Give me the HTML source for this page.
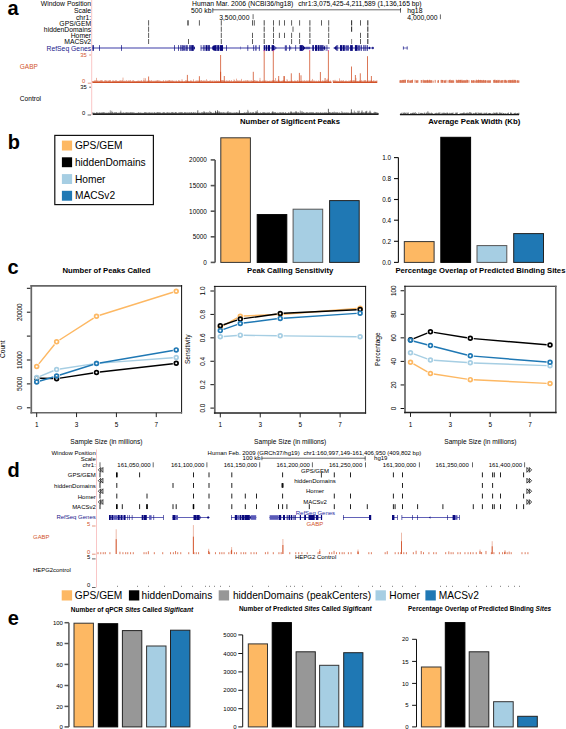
<!DOCTYPE html>
<html><head><meta charset="utf-8"><style>
html,body{margin:0;padding:0;background:#fff;}
body{width:566px;height:729px;overflow:hidden;}
svg{display:block;font-family:"Liberation Sans",sans-serif;}
</style></head><body>
<svg width="566" height="729" viewBox="0 0 566 729">
<rect width="566" height="729" fill="#fff"/>
<text x="7.6" y="15.4" font-size="20" font-weight="bold">a</text>
<text x="7.8" y="149.4" font-size="20" font-weight="bold">b</text>
<text x="7.6" y="274" font-size="20" font-weight="bold">c</text>
<text x="7.6" y="476.6" font-size="20" font-weight="bold">d</text>
<text x="7.8" y="624.6" font-size="20" font-weight="bold">e</text>
<text x="91.1" y="5.8" font-size="6.8" text-anchor="end">Window Position</text>
<text x="91.1" y="12.7" font-size="6.8" text-anchor="end">Scale</text>
<text x="91.1" y="19.6" font-size="6.8" text-anchor="end">chr1:</text>
<text x="91.1" y="26" font-size="6.8" text-anchor="end">GPS/GEM</text>
<text x="91.1" y="31.8" font-size="6.8" text-anchor="end">hiddenDomains</text>
<text x="91.1" y="38.2" font-size="6.8" text-anchor="end">Homer</text>
<text x="91.1" y="44.3" font-size="6.8" text-anchor="end">MACSv2</text>
<text x="91.1" y="50.7" font-size="6.8" text-anchor="end" fill="#1a1a8c">RefSeq Genes</text>
<line x1="91.7" y1="0" x2="91.7" y2="115.2" stroke="#F7B8B8" stroke-width="0.8"/>
<text x="192.1" y="5.9" font-size="6.8">Human Mar. 2006 (NCBI36/hg18)</text>
<text x="298.2" y="5.9" font-size="6.8">chr1:3,075,425-4,211,589 (1,136,165 bp)</text>
<text x="191" y="12.7" font-size="6.8">500 kb</text>
<line x1="212.6" y1="9.8" x2="400.7" y2="9.8" stroke="#000" stroke-width="0.6"/>
<line x1="212.8" y1="8" x2="212.8" y2="12.7" stroke="#000" stroke-width="0.6"/>
<line x1="400.5" y1="8" x2="400.5" y2="12.7" stroke="#000" stroke-width="0.6"/>
<text x="407.3" y="12.8" font-size="6.8">hg18</text>
<text x="219.2" y="20" font-size="6.8">3,500,000</text>
<line x1="253.1" y1="14.2" x2="253.1" y2="19.2" stroke="#000" stroke-width="0.6"/>
<text x="407.3" y="20" font-size="6.8">4,000,000</text>
<line x1="440.4" y1="14.4" x2="440.4" y2="19.2" stroke="#000" stroke-width="0.6"/>
<line x1="148.6" y1="20.2" x2="148.6" y2="25.6" stroke="#333" stroke-width="0.8"/>
<line x1="148.6" y1="26.6" x2="148.6" y2="31.8" stroke="#333" stroke-width="0.8"/>
<line x1="148.6" y1="32.8" x2="148.6" y2="38" stroke="#333" stroke-width="0.8"/>
<line x1="148.6" y1="39" x2="148.6" y2="44" stroke="#333" stroke-width="0.8"/>
<line x1="188" y1="20.2" x2="188" y2="25.6" stroke="#333" stroke-width="1.3"/>
<line x1="188.5" y1="39" x2="188.5" y2="44" stroke="#333" stroke-width="0.8"/>
<line x1="199.4" y1="20.2" x2="199.4" y2="25.6" stroke="#333" stroke-width="0.8"/>
<line x1="221.3" y1="20.2" x2="221.3" y2="25.6" stroke="#333" stroke-width="0.8"/>
<line x1="221.3" y1="26.6" x2="221.3" y2="31.8" stroke="#333" stroke-width="0.8"/>
<line x1="221.3" y1="32.8" x2="221.3" y2="38" stroke="#333" stroke-width="0.8"/>
<line x1="221.3" y1="39" x2="221.3" y2="44" stroke="#333" stroke-width="0.8"/>
<line x1="252.5" y1="20.2" x2="252.5" y2="25.6" stroke="#333" stroke-width="0.8"/>
<line x1="252.5" y1="32.8" x2="252.5" y2="38" stroke="#333" stroke-width="0.8"/>
<line x1="252.5" y1="39" x2="252.5" y2="44" stroke="#333" stroke-width="0.8"/>
<line x1="254.3" y1="20.2" x2="254.3" y2="25.6" stroke="#333" stroke-width="0.8"/>
<line x1="264.2" y1="20.2" x2="264.2" y2="25.6" stroke="#333" stroke-width="0.9"/>
<line x1="264.2" y1="26.6" x2="264.2" y2="31.8" stroke="#333" stroke-width="0.9"/>
<line x1="264.2" y1="32.8" x2="264.2" y2="38" stroke="#333" stroke-width="0.9"/>
<line x1="264.2" y1="39" x2="264.2" y2="44" stroke="#333" stroke-width="0.9"/>
<line x1="273.5" y1="20.2" x2="273.5" y2="25.6" stroke="#333" stroke-width="0.8"/>
<line x1="273.5" y1="26.6" x2="273.5" y2="31.8" stroke="#333" stroke-width="0.8"/>
<line x1="273.5" y1="32.8" x2="273.5" y2="38" stroke="#333" stroke-width="0.8"/>
<line x1="273.5" y1="39" x2="273.5" y2="44" stroke="#333" stroke-width="0.8"/>
<line x1="279.4" y1="20.2" x2="279.4" y2="25.6" stroke="#333" stroke-width="0.8"/>
<line x1="279.4" y1="32.8" x2="279.4" y2="38" stroke="#333" stroke-width="0.8"/>
<line x1="284.5" y1="20.2" x2="284.5" y2="25.6" stroke="#333" stroke-width="0.8"/>
<line x1="284.5" y1="32.8" x2="284.5" y2="38" stroke="#333" stroke-width="0.8"/>
<line x1="291.6" y1="20.2" x2="291.6" y2="25.6" stroke="#333" stroke-width="0.8"/>
<line x1="291.6" y1="32.8" x2="291.6" y2="38" stroke="#333" stroke-width="0.8"/>
<line x1="291.6" y1="39" x2="291.6" y2="44" stroke="#333" stroke-width="0.8"/>
<line x1="293" y1="26.6" x2="293" y2="31.8" stroke="#333" stroke-width="0.8"/>
<line x1="299.6" y1="20.2" x2="299.6" y2="25.6" stroke="#333" stroke-width="0.8"/>
<line x1="299.6" y1="32.8" x2="299.6" y2="38" stroke="#333" stroke-width="0.8"/>
<line x1="299.6" y1="39" x2="299.6" y2="44" stroke="#333" stroke-width="0.8"/>
<line x1="309.9" y1="20.2" x2="309.9" y2="25.6" stroke="#333" stroke-width="0.9"/>
<line x1="309.9" y1="26.6" x2="309.9" y2="31.8" stroke="#333" stroke-width="0.9"/>
<line x1="309.9" y1="32.8" x2="309.9" y2="38" stroke="#333" stroke-width="0.9"/>
<line x1="309.9" y1="39" x2="309.9" y2="44" stroke="#333" stroke-width="0.9"/>
<line x1="321.5" y1="20.2" x2="321.5" y2="25.6" stroke="#333" stroke-width="0.8"/>
<line x1="328.7" y1="20.2" x2="328.7" y2="25.6" stroke="#333" stroke-width="0.8"/>
<line x1="328.7" y1="26.6" x2="328.7" y2="31.8" stroke="#333" stroke-width="0.8"/>
<line x1="328.7" y1="32.8" x2="328.7" y2="38" stroke="#333" stroke-width="0.8"/>
<line x1="328.7" y1="39" x2="328.7" y2="44" stroke="#333" stroke-width="0.8"/>
<line x1="351.6" y1="20.2" x2="351.6" y2="25.6" stroke="#333" stroke-width="1.1"/>
<line x1="351.6" y1="26.6" x2="351.6" y2="31.8" stroke="#333" stroke-width="1.1"/>
<line x1="351.6" y1="39" x2="351.6" y2="44" stroke="#333" stroke-width="0.6"/>
<line x1="360.5" y1="20.2" x2="360.5" y2="25.6" stroke="#333" stroke-width="0.8"/>
<line x1="360.5" y1="32.8" x2="360.5" y2="38" stroke="#333" stroke-width="0.8"/>
<line x1="360.5" y1="39" x2="360.5" y2="44" stroke="#333" stroke-width="0.8"/>
<line x1="367.8" y1="20.2" x2="367.8" y2="25.6" stroke="#333" stroke-width="1.1"/>
<line x1="367.8" y1="26.6" x2="367.8" y2="31.8" stroke="#333" stroke-width="1.1"/>
<line x1="367.8" y1="32.8" x2="367.8" y2="38" stroke="#333" stroke-width="1.1"/>
<line x1="367.8" y1="39" x2="367.8" y2="44" stroke="#333" stroke-width="1.1"/>
<line x1="92.3" y1="48" x2="194.9" y2="48" stroke="#7c7cc4" stroke-width="1.5"/>
<line x1="200.7" y1="48" x2="260" y2="48" stroke="#7c7cc4" stroke-width="1.5"/>
<line x1="263.7" y1="48" x2="329.8" y2="48" stroke="#7c7cc4" stroke-width="1.5"/>
<line x1="333.5" y1="48" x2="373.8" y2="48" stroke="#7c7cc4" stroke-width="1.5"/>
<line x1="403.4" y1="48" x2="407.2" y2="48" stroke="#5050b0" stroke-width="0.8"/>
<line x1="403.4" y1="46.4" x2="403.4" y2="49.6" stroke="#0A0A7E" stroke-width="0.7"/>
<line x1="407.2" y1="46.4" x2="407.2" y2="49.6" stroke="#0A0A7E" stroke-width="0.7"/>
<rect x="99.2" y="45.1" width="0.7" height="5.8" fill="#0A0A7E"/>
<rect x="121.2" y="45.1" width="0.7" height="5.8" fill="#0A0A7E"/>
<rect x="174.3" y="45.1" width="0.7" height="5.8" fill="#0A0A7E"/>
<rect x="178.1" y="45.1" width="0.7" height="5.8" fill="#0A0A7E"/>
<rect x="189.1" y="45.1" width="0.7" height="5.8" fill="#0A0A7E"/>
<rect x="190.1" y="45.1" width="0.7" height="5.8" fill="#0A0A7E"/>
<rect x="200.7" y="45.1" width="0.7" height="5.8" fill="#0A0A7E"/>
<rect x="202.9" y="45.1" width="0.7" height="5.8" fill="#0A0A7E"/>
<rect x="226.3" y="45.1" width="0.7" height="5.8" fill="#0A0A7E"/>
<rect x="247.5" y="45.1" width="0.7" height="5.8" fill="#0A0A7E"/>
<rect x="253.4" y="45.1" width="0.7" height="5.8" fill="#0A0A7E"/>
<rect x="258.9" y="45.1" width="0.7" height="5.8" fill="#0A0A7E"/>
<rect x="289.3" y="45.1" width="0.7" height="5.8" fill="#0A0A7E"/>
<rect x="295.4" y="45.1" width="0.7" height="5.8" fill="#0A0A7E"/>
<rect x="326.6" y="45.1" width="0.7" height="5.8" fill="#0A0A7E"/>
<rect x="337.4" y="45.1" width="0.7" height="5.8" fill="#0A0A7E"/>
<rect x="361.3" y="45.1" width="0.7" height="5.8" fill="#0A0A7E"/>
<rect x="363.4" y="45.1" width="0.7" height="5.8" fill="#0A0A7E"/>
<rect x="364.6" y="45.1" width="0.7" height="5.8" fill="#0A0A7E"/>
<rect x="365.6" y="45.1" width="0.7" height="5.8" fill="#0A0A7E"/>
<rect x="367.1" y="45.1" width="0.7" height="5.8" fill="#0A0A7E"/>
<rect x="92.5" y="45.1" width="1.3" height="5.8" fill="#0A0A7E"/>
<rect x="240.2" y="46.6" width="0.6" height="2.8" fill="#4a4aa8"/>
<rect x="290.5" y="46.4" width="0.6" height="3.2" fill="#0A0A7E"/>
<rect x="180.4" y="45.1" width="0.9" height="5.8" fill="#0A0A7E"/>
<rect x="181.8" y="45.1" width="0.9" height="5.8" fill="#0A0A7E"/>
<rect x="185.8" y="45.1" width="0.9" height="5.8" fill="#0A0A7E"/>
<rect x="187" y="45.1" width="0.6" height="5.8" fill="#0A0A7E"/>
<rect x="191.2" y="45.1" width="2.4" height="5.8" fill="#0A0A7E"/>
<rect x="204.5" y="45.1" width="0.8" height="5.8" fill="#0A0A7E"/>
<rect x="205.8" y="45.1" width="1.8" height="5.8" fill="#0A0A7E"/>
<rect x="208.2" y="45.1" width="1.6" height="5.8" fill="#0A0A7E"/>
<rect x="217.2" y="45.1" width="2.1" height="5.8" fill="#0A0A7E"/>
<rect x="219.9" y="45.1" width="3.1" height="5.8" fill="#0A0A7E"/>
<rect x="263.7" y="45.1" width="1.7" height="5.8" fill="#0A0A7E"/>
<rect x="266" y="45.1" width="1.3" height="5.8" fill="#0A0A7E"/>
<rect x="268" y="45.1" width="2" height="5.8" fill="#0A0A7E"/>
<rect x="271.6" y="45.1" width="2.4" height="5.8" fill="#0A0A7E"/>
<rect x="299.6" y="45.1" width="3.2" height="5.8" fill="#0A0A7E"/>
<rect x="312.3" y="45.1" width="1.6" height="5.8" fill="#0A0A7E"/>
<rect x="315" y="45.1" width="2" height="5.8" fill="#0A0A7E"/>
<rect x="317.6" y="45.1" width="2" height="5.8" fill="#0A0A7E"/>
<rect x="320.2" y="45.1" width="1.6" height="5.8" fill="#0A0A7E"/>
<rect x="322.2" y="45.1" width="1.3" height="5.8" fill="#0A0A7E"/>
<rect x="340" y="45.1" width="2.2" height="5.8" fill="#0A0A7E"/>
<rect x="342.7" y="45.1" width="2.1" height="5.8" fill="#0A0A7E"/>
<rect x="350.1" y="45.1" width="2.7" height="5.8" fill="#0A0A7E"/>
<rect x="354.9" y="45.1" width="2.7" height="5.8" fill="#0A0A7E"/>
<rect x="183" y="45.3" width="2.5" height="5.4" fill="#4a4aa8"/>
<rect x="255.2" y="45.3" width="1.4" height="5.4" fill="#4a4aa8"/>
<rect x="284.8" y="45.3" width="2.1" height="5.4" fill="#4a4aa8"/>
<rect x="345.4" y="45.3" width="3.6" height="5.4" fill="#4a4aa8"/>
<rect x="358" y="45.3" width="2.5" height="5.4" fill="#4a4aa8"/>
<rect x="305.4" y="46.8" width="4.8" height="2.4" fill="#4a4aa8"/>
<path d="M216.6 45.1Q211.6 45.1 212.2 48Q211.6 50.9 216.6 50.9Z" stroke="none" stroke-width="1" fill="#0A0A7E"/>
<path d="M193.5 45.1L195.1 48L193.5 50.9Z" stroke="none" stroke-width="1" fill="#0A0A7E"/>
<path d="M302.7 45.1L305.6 48L302.7 50.9Z" stroke="none" stroke-width="1" fill="#0A0A7E"/>
<path d="M274 45.6L277 48L274 50.4Z" stroke="none" stroke-width="1" fill="#4a4aa8"/>
<path d="M325.2 45.1L323.3 48L325.2 50.9Z" stroke="none" stroke-width="1" fill="#0A0A7E"/>
<path d="M336.8 45.1L334.0 48L336.8 50.9Z" stroke="none" stroke-width="1" fill="#0A0A7E"/>
<path d="M369.4 46.4L370.4 48L369.4 49.6L368.4 48Z" stroke="none" stroke-width="1" fill="#0A0A7E"/>
<path d="M372.9 46.4L373.9 48L372.9 49.6L371.9 48Z" stroke="none" stroke-width="1" fill="#0A0A7E"/>
<line x1="80.5" y1="55.3" x2="80.5" y2="55.3" stroke="#000" stroke-width="1"/>
<text x="86.8" y="56.8" font-size="5.8" text-anchor="end" fill="#D2532B">35</text>
<line x1="89.2" y1="55" x2="91" y2="55" stroke="#D2532B" stroke-width="0.6"/>
<text x="19.8" y="68.6" font-size="6.5" fill="#D2532B">GABP</text>
<text x="85.2" y="82.6" font-size="5.8" text-anchor="end" fill="#D2532B">0</text>
<line x1="87.8" y1="83.2" x2="91" y2="83.2" stroke="#D2532B" stroke-width="0.6"/>
<text x="86.8" y="88.6" font-size="5.8" text-anchor="end">35</text>
<line x1="89.2" y1="87.2" x2="91" y2="87.2" stroke="#000" stroke-width="0.6"/>
<text x="19.8" y="100.7" font-size="6.6">Control</text>
<text x="85.2" y="114.7" font-size="5.8" text-anchor="end">0</text>
<line x1="87.6" y1="115" x2="91" y2="115" stroke="#000" stroke-width="0.6"/>
<line x1="92.5" y1="82.4" x2="331.5" y2="82.4" stroke="#D2532B" stroke-width="1.3"/>
<path d="M92.5 82.4V81.05M93 82.4V81.5M93.5 82.4V81.21M94 82.4V80.89M94.5 82.4V80.64M95 82.4V80.3M95.5 82.4V80.59M96 82.4V80.71M96.5 82.4V77.87M97 82.4V80.28M97.5 82.4V81.01M98 82.4V80.2M98.5 82.4V81.4M99 82.4V80.95M99.5 82.4V80.84M100 82.4V80.72M100.5 82.4V80.58M101 82.4V80.11M101.5 82.4V80.31M102 82.4V80.75M102.5 82.4V80.35M103 82.4V81.5M103.5 82.4V81.47M104 82.4V81.37M104.5 82.4V80.29M105 82.4V81.53M105.5 82.4V80.28M106 82.4V80.1M106.5 82.4V80.7M107 82.4V80.99M107.5 82.4V81.54M108 82.4V80.16M108.5 82.4V80.91M109 82.4V80.71M109.5 82.4V80.19M110 82.4V80.52M110.5 82.4V80.13M111 82.4V81.58M111.5 82.4V81.57M112 82.4V81.51M112.5 82.4V80.58M113 82.4V80.49M113.5 82.4V80.59M114 82.4V80.92M114.5 82.4V81.05M115 82.4V80.71M115.5 82.4V80.44M116 82.4V80.5M116.5 82.4V80.39M117 82.4V80.95M117.5 82.4V81.12M118 82.4V80.94M118.5 82.4V81.09M119 82.4V80.92M119.5 82.4V80.81M120 82.4V80.34M120.5 82.4V80.39M121 82.4V81.08M121.5 82.4V80.41M122 82.4V80.97M122.5 82.4V80.22M123 82.4V77.6M123.5 82.4V80.95M124 82.4V81.27M124.5 82.4V80.61M125 82.4V81.09M125.5 82.4V80.72M126 82.4V81.53M126.5 82.4V80.21M127 82.4V80.73M127.5 82.4V81.34M128 82.4V80.81M128.5 82.4V80.68M129 82.4V80.31M129.5 82.4V81.07M130 82.4V80.37M130.5 82.4V80.22M131 82.4V81.59M131.5 82.4V81.53M132 82.4V80.81M132.5 82.4V80.44M133 82.4V81.41M133.5 82.4V80.14M134 82.4V80.85M134.5 82.4V81.07M135 82.4V81.06M135.5 82.4V81.41M136 82.4V81.03M136.5 82.4V81.04M137 82.4V81.03M137.5 82.4V80.95M138 82.4V80.55M138.5 82.4V80.91M139 82.4V80.56M139.5 82.4V80.96M140 82.4V81.04M140.5 82.4V81.21M141 82.4V80.38M141.5 82.4V80.41M142 82.4V80.75M142.5 82.4V81.59M143 82.4V81.53M143.5 82.4V80.28M144 82.4V77.95M144.5 82.4V80.59M145 82.4V80.73M145.5 82.4V78.21M146 82.4V81.44M146.5 82.4V81.51M147 82.4V80.36M147.5 82.4V81.23M148 82.4V81.01M148.5 82.4V81.07M149 82.4V80.85M149.5 82.4V80.48M150 82.4V80.47M150.5 82.4V80.87M151 82.4V81.38M151.5 82.4V80.23M152 82.4V80.52M152.5 82.4V81.3M153 82.4V81.25M153.5 82.4V81.16M154 82.4V80.32M154.5 82.4V81.27M155 82.4V81.03M155.5 82.4V81.12M156 82.4V80.11M156.5 82.4V80.9M157 82.4V80.76M157.5 82.4V80.32M158 82.4V80.16M158.5 82.4V81.25M159 82.4V80.16M159.5 82.4V81.32M160 82.4V80.54M160.5 82.4V81.22M161 82.4V80.97M161.5 82.4V81.46M162 82.4V81.07M162.5 82.4V81.59M163 82.4V80.87M163.5 82.4V80.17M164 82.4V81.42M164.5 82.4V81.43M165 82.4V81.45M165.5 82.4V80.44M166 82.4V80.59M166.5 82.4V81.2M167 82.4V80.59M167.5 82.4V80.86M168 82.4V80.58M168.5 82.4V80.63M169 82.4V80.27M169.5 82.4V80.2M170 82.4V80.52M170.5 82.4V80.63M171 82.4V81.34M171.5 82.4V80.47M172 82.4V81.06M172.5 82.4V80.29M173 82.4V81.23M173.5 82.4V81.1M174 82.4V80.44M174.5 82.4V81.43M175 82.4V81.43M175.5 82.4V81.32M176 82.4V80.49M176.5 82.4V80.71M177 82.4V81.31M177.5 82.4V81.3M178 82.4V81.55M178.5 82.4V80.18M179 82.4V80.73M179.5 82.4V80.57M180 82.4V80.87M180.5 82.4V81.6M181 82.4V80.86M181.5 82.4V81.31M182 82.4V79.15M182.5 82.4V80.75M183 82.4V81.4M183.5 82.4V81.52M184 82.4V81.48M184.5 82.4V81.12M185 82.4V81.4M185.5 82.4V80.21M186 82.4V81.08M186.5 82.4V80.31M187 82.4V80.87M187.5 82.4V80.63M188 82.4V80.85M188.5 82.4V80.97M189 82.4V80.9M189.5 82.4V81.33M190 82.4V81.05M190.5 82.4V80.71M191 82.4V80.17M191.5 82.4V80.91M192 82.4V81.34M192.5 82.4V81.56M193 82.4V80.86M193.5 82.4V79.33M194 82.4V81.52M194.5 82.4V81.56M195 82.4V81.46M195.5 82.4V80.67M196 82.4V81.52M196.5 82.4V80.42M197 82.4V81.15M197.5 82.4V80.38M198 82.4V81.46M198.5 82.4V80.71M199 82.4V80.58M199.5 82.4V80.71M200 82.4V81.3M200.5 82.4V80.39M201 82.4V81.55M201.5 82.4V80.18M202 82.4V80.33M202.5 82.4V81.1M203 82.4V81.34M203.5 82.4V80.35M204 82.4V81.06M204.5 82.4V80.43M205 82.4V81.35M205.5 82.4V80.53M206 82.4V81.37M206.5 82.4V79.27M207 82.4V81.45M207.5 82.4V80.64M208 82.4V80.93M208.5 82.4V81.1M209 82.4V81M209.5 82.4V80.75M210 82.4V80.63M210.5 82.4V80.37M211 82.4V81.58M211.5 82.4V81.27M212 82.4V80.43M212.5 82.4V80.8M213 82.4V81.48M213.5 82.4V81.56M214 82.4V80.26M214.5 82.4V81.27M215 82.4V80.64M215.5 82.4V81.08M216 82.4V81.43M216.5 82.4V80.38M217 82.4V80.9M217.5 82.4V81.08M218 82.4V80.77M218.5 82.4V80.63M219 82.4V81.07M219.5 82.4V80.95M220 82.4V81.35M220.5 82.4V80.29M221 82.4V80.2M221.5 82.4V80.18M222 82.4V80.87M222.5 82.4V80.1M223 82.4V80.2M223.5 82.4V80.52M224 82.4V80.64M224.5 82.4V81.19M225 82.4V80.49M225.5 82.4V81.44M226 82.4V81.48M226.5 82.4V80.55M227 82.4V80.29M227.5 82.4V81.13M228 82.4V80.79M228.5 82.4V81.17M229 82.4V80.39M229.5 82.4V80.39M230 82.4V80.8M230.5 82.4V81.52M231 82.4V80.9M231.5 82.4V80.13M232 82.4V81.58M232.5 82.4V81.52M233 82.4V81.13M233.5 82.4V80.97M234 82.4V79.4M234.5 82.4V80.23M235 82.4V81.4M235.5 82.4V80.84M236 82.4V81.18M236.5 82.4V78.65M237 82.4V80.9M237.5 82.4V80.38M238 82.4V80.82M238.5 82.4V80.57M239 82.4V80.99M239.5 82.4V80.4M240 82.4V81.37M240.5 82.4V80.98M241 82.4V80.2M241.5 82.4V78.89M242 82.4V81.18M242.5 82.4V81.45M243 82.4V80.83M243.5 82.4V80.63M244 82.4V81.33M244.5 82.4V81.13M245 82.4V80.18M245.5 82.4V81.18M246 82.4V80.13M246.5 82.4V81.3M247 82.4V80.49M247.5 82.4V80.37M248 82.4V80.16M248.5 82.4V80.88M249 82.4V81.53M249.5 82.4V81.38M250 82.4V80.11M250.5 82.4V81.39M251 82.4V81.34M251.5 82.4V80.29M252 82.4V80.8M252.5 82.4V81.02M253 82.4V81.4M253.5 82.4V81.07M254 82.4V81.31M254.5 82.4V80.13M255 82.4V80.17M255.5 82.4V81.13M256 82.4V80.48M256.5 82.4V80.9M257 82.4V80.8M257.5 82.4V80.71M258 82.4V81.33M258.5 82.4V81.35M259 82.4V81.52M259.5 82.4V80.29M260 82.4V77.86M260.5 82.4V80.57M261 82.4V81.46M261.5 82.4V81.38M262 82.4V80.84M262.5 82.4V81.06M263 82.4V80.2M263.5 82.4V81.17M264 82.4V81.42M264.5 82.4V81.09M265 82.4V80.15M265.5 82.4V80.8M266 82.4V80.81M266.5 82.4V81.5M267 82.4V80.43M267.5 82.4V81.02M268 82.4V81.28M268.5 82.4V80.95M269 82.4V81.06M269.5 82.4V81M270 82.4V80.29M270.5 82.4V81.27M271 82.4V81.39M271.5 82.4V81.18M272 82.4V80.22M272.5 82.4V80.36M273 82.4V80.94M273.5 82.4V80.28M274 82.4V80.26M274.5 82.4V80.36M275 82.4V81.56M275.5 82.4V77.99M276 82.4V81.02M276.5 82.4V80.66M277 82.4V81.45M277.5 82.4V81.47M278 82.4V80.11M278.5 82.4V79.22M279 82.4V80.36M279.5 82.4V80.73M280 82.4V81.01M280.5 82.4V81.56M281 82.4V80.74M281.5 82.4V80.9M282 82.4V81.17M282.5 82.4V80.81M283 82.4V80.25M283.5 82.4V80.67M284 82.4V80.24M284.5 82.4V81.29M285 82.4V81.13M285.5 82.4V81.28M286 82.4V81.42M286.5 82.4V81.28M287 82.4V79.15M287.5 82.4V80.35M288 82.4V81.02M288.5 82.4V81.2M289 82.4V81.43M289.5 82.4V80.75M290 82.4V81.28M290.5 82.4V81.34M291 82.4V80.79M291.5 82.4V80.94M292 82.4V80.31M292.5 82.4V81.2M293 82.4V81.27M293.5 82.4V81.08M294 82.4V81.33M294.5 82.4V80.5M295 82.4V80.81M295.5 82.4V80.79M296 82.4V80.86M296.5 82.4V81.3M297 82.4V80.77M297.5 82.4V80.27M298 82.4V80.35M298.5 82.4V81.58M299 82.4V81.07M299.5 82.4V81.23M300 82.4V81.02M300.5 82.4V81.12M301 82.4V81.01M301.5 82.4V80.74M302 82.4V80.88M302.5 82.4V81.35M303 82.4V80.22M303.5 82.4V81M304 82.4V81.13M304.5 82.4V80.18M305 82.4V81.21M305.5 82.4V80.74M306 82.4V81.27M306.5 82.4V80.5M307 82.4V80.54M307.5 82.4V80.91M308 82.4V80.46M308.5 82.4V81.2M309 82.4V80.29M309.5 82.4V80.57M310 82.4V81.21M310.5 82.4V81.02M311 82.4V80.64M311.5 82.4V80.84M312 82.4V80.51M312.5 82.4V78.95M313 82.4V81.3M313.5 82.4V80.49M314 82.4V81.38M314.5 82.4V80.69M315 82.4V80.66M315.5 82.4V81.59M316 82.4V81.01M316.5 82.4V80.68M317 82.4V81.6M317.5 82.4V81.34M318 82.4V81.11M318.5 82.4V80.4M319 82.4V80.93M319.5 82.4V81.26M320 82.4V81.08M320.5 82.4V81.46M321 82.4V80.78M321.5 82.4V81.56M322 82.4V81.31M322.5 82.4V80.46M323 82.4V80.5M323.5 82.4V81.14M324 82.4V80.85M324.5 82.4V80.73M325 82.4V81.41M325.5 82.4V81.05M326 82.4V80.85M326.5 82.4V80.21M327 82.4V79.24M327.5 82.4V80.3M328 82.4V78.54M328.5 82.4V81.15M329 82.4V80.66M329.5 82.4V81.53M330 82.4V81.47M330.5 82.4V80.45M331 82.4V81.48" stroke="#D2532B" stroke-width="0.5" fill="none" stroke-opacity="0.9"/>
<line x1="333" y1="82.4" x2="377.2" y2="82.4" stroke="#D2532B" stroke-width="1.3"/>
<path d="M333 82.4V80.16M333.5 82.4V80.59M334 82.4V80.53M334.5 82.4V80.9M335 82.4V79.83M335.5 82.4V80.89M336 82.4V80.62M336.5 82.4V80.88M337 82.4V81.51M337.5 82.4V80.68M338 82.4V81.45M338.5 82.4V81.22M339 82.4V81.09M339.5 82.4V78.33M340 82.4V80.51M340.5 82.4V81.26M341 82.4V80.64M341.5 82.4V80.45M342 82.4V80.85M342.5 82.4V81.01M343 82.4V80.23M343.5 82.4V80.4M344 82.4V81.39M344.5 82.4V81.42M345 82.4V81.16M345.5 82.4V80.95M346 82.4V80.36M346.5 82.4V80.94M347 82.4V81.57M347.5 82.4V81.02M348 82.4V81.47M348.5 82.4V81.27M349 82.4V80.25M349.5 82.4V81.28M350 82.4V81M350.5 82.4V80.34M351 82.4V80.37M351.5 82.4V81.29M352 82.4V80.24M352.5 82.4V81.43M353 82.4V80.24M353.5 82.4V80.18M354 82.4V81.13M354.5 82.4V80.25M355 82.4V80.62M355.5 82.4V81.41M356 82.4V77.85M356.5 82.4V81.11M357 82.4V80.79M357.5 82.4V81.16M358 82.4V80.94M358.5 82.4V81.42M359 82.4V80.88M359.5 82.4V80.33M360 82.4V81.05M360.5 82.4V80.88M361 82.4V80.89M361.5 82.4V80.13M362 82.4V81.34M362.5 82.4V81.48M363 82.4V80.33M363.5 82.4V81.52M364 82.4V80.47M364.5 82.4V80.41M365 82.4V80.29M365.5 82.4V80.26M366 82.4V80.35M366.5 82.4V81.56M367 82.4V81.54M367.5 82.4V81.28M368 82.4V80.67M368.5 82.4V81.58M369 82.4V80.15M369.5 82.4V81.41M370 82.4V80.82M370.5 82.4V80.51M371 82.4V81.18M371.5 82.4V80.25M372 82.4V80.82M372.5 82.4V81.1M373 82.4V81.16M373.5 82.4V80.51M374 82.4V80.16M374.5 82.4V81.45M375 82.4V81.05M375.5 82.4V80.91M376 82.4V80.67M376.5 82.4V80.86M377 82.4V80.42" stroke="#D2532B" stroke-width="0.5" fill="none" stroke-opacity="0.9"/>
<path d="M399.9 82.8V80.32M400.6 82.8V80.13M401.3 82.8V80.41M402 82.8V80.16M402.7 82.8V79.91M403.4 82.8V80.03M404.1 82.8V79.76M404.8 82.8V79.91M405.5 82.8V79.74M407.6 82.8V80M408.3 82.8V79.8M409.7 82.8V80.44M410.4 82.8V80.54M411.1 82.8V80.2M411.8 82.8V80.14M412.5 82.8V79.73M415.1 82.8V79.89M416.5 82.8V80.39M417.2 82.8V80.36M417.9 82.8V80.13M421.2 82.8V80.03M421.9 82.8V80.05M423.3 82.8V79.78M424 82.8V80.59M424.7 82.8V80.14M425.4 82.8V80.37M426.1 82.8V80.25M426.8 82.8V80.26M427.5 82.8V79.85M428.2 82.8V80.53M428.9 82.8V80.24M429.6 82.8V79.79M430.3 82.8V80.43M431 82.8V80.04M431.7 82.8V80.31M433.1 82.8V80.59M435.2 82.8V79.92M437.8 82.8V80.42M438.5 82.8V80.13M441.1 82.8V79.96M441.8 82.8V79.85M442.5 82.8V80M443.9 82.8V80.13M444.6 82.8V80.56M445.3 82.8V80.36M446 82.8V79.89M448.1 82.8V80.22M449.5 82.8V79.95M450.2 82.8V79.71M450.9 82.8V80.56M451.6 82.8V80.23M452.3 82.8V80.47M453 82.8V79.93M453.7 82.8V80.56M456.3 82.8V79.78M457 82.8V80.1M457.7 82.8V80.48M458.4 82.8V79.81M459.1 82.8V79.99M459.8 82.8V79.9M460.5 82.8V79.87M461.2 82.8V80.34M461.9 82.8V79.74M462.6 82.8V80.49M463.3 82.8V80.41M464 82.8V80.12M464.7 82.8V80.39M465.4 82.8V80.34M466.1 82.8V80.33M466.8 82.8V79.74M467.5 82.8V79.98M468.9 82.8V80.19M471.5 82.8V80.16M472.2 82.8V80.57M472.9 82.8V80.33M473.6 82.8V80.2M474.3 82.8V80.43M475.7 82.8V80.59M476.4 82.8V79.77M477.1 82.8V80.43M477.8 82.8V80.1M478.5 82.8V79.72M479.2 82.8V80.1M479.9 82.8V80.05M480.6 82.8V79.9M481.3 82.8V80.09M482 82.8V80.33M482.7 82.8V80.35M483.4 82.8V79.91M484.1 82.8V80.14M484.8 82.8V80.57M485.5 82.8V80.13M486.2 82.8V80.35M487.6 82.8V80.38M488.3 82.8V80.47M489 82.8V80.31M489.7 82.8V80.53M490.4 82.8V80.25M493.7 82.8V79.98M494.4 82.8V79.83M495.1 82.8V79.77M495.8 82.8V80.55M496.5 82.8V80.12M497.2 82.8V80.56M497.9 82.8V79.89M498.6 82.8V80.28M499.3 82.8V79.93M500.7 82.8V80.46M501.4 82.8V80.31M502.1 82.8V80.24M502.8 82.8V80.04M504.2 82.8V80.26M504.9 82.8V79.86M505.6 82.8V79.95M506.3 82.8V80.56M507 82.8V80.43M508.4 82.8V80.15M509.1 82.8V80.25M509.8 82.8V79.92M510.5 82.8V80.19M511.2 82.8V79.98M511.9 82.8V80.51M512.6 82.8V79.82M513.3 82.8V80.44M514 82.8V79.74M514.7 82.8V80.06M515.4 82.8V79.9M516.1 82.8V80.46M517.5 82.8V80.22M518.2 82.8V80.51M518.9 82.8V80.38" stroke="#D2532B" stroke-width="0.75" fill="none"/>
<line x1="148.6" y1="82.4" x2="148.6" y2="76.5" stroke="#D2532B" stroke-width="0.8"/>
<line x1="187.4" y1="82.4" x2="187.4" y2="74.9" stroke="#D2532B" stroke-width="0.8"/>
<line x1="199.4" y1="82.4" x2="199.4" y2="76.2" stroke="#D2532B" stroke-width="0.8"/>
<line x1="220.6" y1="82.4" x2="220.6" y2="55" stroke="#D2532B" stroke-width="0.8"/>
<line x1="224.3" y1="82.4" x2="224.3" y2="76" stroke="#D2532B" stroke-width="0.8"/>
<line x1="253.3" y1="82.4" x2="253.3" y2="71.8" stroke="#D2532B" stroke-width="0.8"/>
<line x1="264.2" y1="82.4" x2="264.2" y2="50.5" stroke="#D2532B" stroke-width="0.8"/>
<line x1="273.3" y1="82.4" x2="273.3" y2="50.5" stroke="#D2532B" stroke-width="0.8"/>
<line x1="278.7" y1="82.4" x2="278.7" y2="76" stroke="#D2532B" stroke-width="0.8"/>
<line x1="284" y1="82.4" x2="284" y2="76" stroke="#D2532B" stroke-width="0.8"/>
<line x1="284.3" y1="82.4" x2="284.3" y2="76.2" stroke="#D2532B" stroke-width="0.8"/>
<line x1="291.3" y1="82.4" x2="291.3" y2="73.3" stroke="#D2532B" stroke-width="0.8"/>
<line x1="299.4" y1="82.4" x2="299.4" y2="72.9" stroke="#D2532B" stroke-width="0.8"/>
<line x1="301" y1="82.4" x2="301" y2="75.3" stroke="#D2532B" stroke-width="0.8"/>
<line x1="309.7" y1="82.4" x2="309.7" y2="50.5" stroke="#D2532B" stroke-width="0.8"/>
<line x1="320.4" y1="82.4" x2="320.4" y2="72" stroke="#D2532B" stroke-width="0.8"/>
<line x1="325.1" y1="82.4" x2="325.1" y2="78" stroke="#D2532B" stroke-width="0.8"/>
<line x1="328.4" y1="82.4" x2="328.4" y2="50.5" stroke="#D2532B" stroke-width="0.8"/>
<line x1="351.5" y1="82.4" x2="351.5" y2="66.5" stroke="#D2532B" stroke-width="0.8"/>
<line x1="355.4" y1="82.4" x2="355.4" y2="75" stroke="#D2532B" stroke-width="0.8"/>
<line x1="360.3" y1="82.4" x2="360.3" y2="73.3" stroke="#D2532B" stroke-width="0.8"/>
<line x1="367.5" y1="82.4" x2="367.5" y2="56.2" stroke="#D2532B" stroke-width="0.8"/>
<line x1="371.4" y1="82.4" x2="371.4" y2="76" stroke="#D2532B" stroke-width="0.8"/>
<line x1="220.6" y1="82.4" x2="220.6" y2="71.8" stroke="#D2532B" stroke-width="1"/>
<line x1="264.2" y1="50" x2="264.2" y2="51.2" stroke="#E040C0" stroke-width="0.8"/>
<line x1="273.3" y1="50" x2="273.3" y2="51.2" stroke="#E040C0" stroke-width="0.8"/>
<line x1="309.7" y1="50" x2="309.7" y2="51.2" stroke="#E040C0" stroke-width="0.8"/>
<line x1="328.4" y1="50" x2="328.4" y2="51.2" stroke="#E040C0" stroke-width="0.8"/>
<line x1="92.8" y1="114.3" x2="378.5" y2="114.3" stroke="#222" stroke-width="1.6"/>
<path d="M92.8 114.3V112.28M93.3 114.3V112.79M93.8 114.3V113.1M94.3 114.3V112.56M94.8 114.3V113.4M95.3 114.3V113.22M95.8 114.3V113.44M96.3 114.3V112.52M96.8 114.3V112.1M97.3 114.3V112.46M97.8 114.3V113.38M98.3 114.3V113.44M98.8 114.3V112.56M99.3 114.3V112.76M99.8 114.3V112.29M100.3 114.3V113.17M100.8 114.3V112.7M101.3 114.3V112.91M101.8 114.3V112.31M102.3 114.3V112.58M102.8 114.3V112.53M103.3 114.3V112.7M103.8 114.3V112M104.3 114.3V112.39M104.8 114.3V113.38M105.3 114.3V112.69M105.8 114.3V113.3M106.3 114.3V112.63M106.8 114.3V113.18M107.3 114.3V112.72M107.8 114.3V113.32M108.3 114.3V112.54M108.8 114.3V112.52M109.3 114.3V112.93M109.8 114.3V112.69M110.3 114.3V110.33M110.8 114.3V112.4M111.3 114.3V112.93M111.8 114.3V110.81M112.3 114.3V112M112.8 114.3V112.4M113.3 114.3V113.42M113.8 114.3V112.75M114.3 114.3V112.56M114.8 114.3V112.2M115.3 114.3V113.12M115.8 114.3V112.11M116.3 114.3V112.16M116.8 114.3V112.55M117.3 114.3V113.1M117.8 114.3V113.17M118.3 114.3V112.43M118.8 114.3V113M119.3 114.3V113.21M119.8 114.3V112.46M120.3 114.3V112.18M120.8 114.3V110.63M121.3 114.3V112.75M121.8 114.3V112.55M122.3 114.3V112.98M122.8 114.3V112.81M123.3 114.3V112.32M123.8 114.3V112.82M124.3 114.3V112.63M124.8 114.3V113.25M125.3 114.3V113.01M125.8 114.3V112.24M126.3 114.3V112.23M126.8 114.3V112.7M127.3 114.3V112.36M127.8 114.3V112.69M128.3 114.3V112.6M128.8 114.3V112.63M129.3 114.3V112.5M129.8 114.3V113.02M130.3 114.3V112.32M130.8 114.3V112.16M131.3 114.3V113.23M131.8 114.3V112.05M132.3 114.3V112.7M132.8 114.3V112.5M133.3 114.3V112.3M133.8 114.3V113.36M134.3 114.3V112.37M134.8 114.3V113.33M135.3 114.3V113.15M135.8 114.3V112.86M136.3 114.3V112.79M136.8 114.3V113.2M137.3 114.3V113M137.8 114.3V112.86M138.3 114.3V112.16M138.8 114.3V112.5M139.3 114.3V112.82M139.8 114.3V112.94M140.3 114.3V112.25M140.8 114.3V113.01M141.3 114.3V113.28M141.8 114.3V112.49M142.3 114.3V113.13M142.8 114.3V112.93M143.3 114.3V112.91M143.8 114.3V113.1M144.3 114.3V112.38M144.8 114.3V112.16M145.3 114.3V112.75M145.8 114.3V112.05M146.3 114.3V112.5M146.8 114.3V112.92M147.3 114.3V112.52M147.8 114.3V113.43M148.3 114.3V112.73M148.8 114.3V112.43M149.3 114.3V112.41M149.8 114.3V112.45M150.3 114.3V113.11M150.8 114.3V112.45M151.3 114.3V112.98M151.8 114.3V112.55M152.3 114.3V112.32M152.8 114.3V113.25M153.3 114.3V113.46M153.8 114.3V112.64M154.3 114.3V112.23M154.8 114.3V112.36M155.3 114.3V113.04M155.8 114.3V112.91M156.3 114.3V112.38M156.8 114.3V113.02M157.3 114.3V112.19M157.8 114.3V112.05M158.3 114.3V112.46M158.8 114.3V112.58M159.3 114.3V112.13M159.8 114.3V112.77M160.3 114.3V112.68M160.8 114.3V112.42M161.3 114.3V113.29M161.8 114.3V113.41M162.3 114.3V112.84M162.8 114.3V112.59M163.3 114.3V112.38M163.8 114.3V112.35M164.3 114.3V112.13M164.8 114.3V113.03M165.3 114.3V112.69M165.8 114.3V113.42M166.3 114.3V113.14M166.8 114.3V112.24M167.3 114.3V112.34M167.8 114.3V112.58M168.3 114.3V112.37M168.8 114.3V113.1M169.3 114.3V112.71M169.8 114.3V112.41M170.3 114.3V112.86M170.8 114.3V113.11M171.3 114.3V112.56M171.8 114.3V112.05M172.3 114.3V112.46M172.8 114.3V112.04M173.3 114.3V112.85M173.8 114.3V112.49M174.3 114.3V112.85M174.8 114.3V112.93M175.3 114.3V112.01M175.8 114.3V112.21M176.3 114.3V112.16M176.8 114.3V112.94M177.3 114.3V113.41M177.8 114.3V113.15M178.3 114.3V112.31M178.8 114.3V113.24M179.3 114.3V112.49M179.8 114.3V112.23M180.3 114.3V112.6M180.8 114.3V112.27M181.3 114.3V112.3M181.8 114.3V112.53M182.3 114.3V112.06M182.8 114.3V113.19M183.3 114.3V113.33M183.8 114.3V112.93M184.3 114.3V112.31M184.8 114.3V112.41M185.3 114.3V112.04M185.8 114.3V112.96M186.3 114.3V113.35M186.8 114.3V112.28M187.3 114.3V112.3M187.8 114.3V113.42M188.3 114.3V113.1M188.8 114.3V112.31M189.3 114.3V112.11M189.8 114.3V112.99M190.3 114.3V113.22M190.8 114.3V112.37M191.3 114.3V112.06M191.8 114.3V112.5M192.3 114.3V112.8M192.8 114.3V113.01M193.3 114.3V112.33M193.8 114.3V112.11M194.3 114.3V112.71M194.8 114.3V112.76M195.3 114.3V113.28M195.8 114.3V112.05M196.3 114.3V112.88M196.8 114.3V113.19M197.3 114.3V113.42M197.8 114.3V112.4M198.3 114.3V113.08M198.8 114.3V113.1M199.3 114.3V112.47M199.8 114.3V112.77M200.3 114.3V112.94M200.8 114.3V113.46M201.3 114.3V112.05M201.8 114.3V113.03M202.3 114.3V112.13M202.8 114.3V112.56M203.3 114.3V113.04M203.8 114.3V112.6M204.3 114.3V112.01M204.8 114.3V112.72M205.3 114.3V113.11M205.8 114.3V112.31M206.3 114.3V112.32M206.8 114.3V112.55M207.3 114.3V112.5M207.8 114.3V112.78M208.3 114.3V112.08M208.8 114.3V112.78M209.3 114.3V113.28M209.8 114.3V110.87M210.3 114.3V112.12M210.8 114.3V112.09M211.3 114.3V112.2M211.8 114.3V112.87M212.3 114.3V112.92M212.8 114.3V113.22M213.3 114.3V112.68M213.8 114.3V112.71M214.3 114.3V112.89M214.8 114.3V113.27M215.3 114.3V112.64M215.8 114.3V112.49M216.3 114.3V112.25M216.8 114.3V112.53M217.3 114.3V112.72M217.8 114.3V112.08M218.3 114.3V113.1M218.8 114.3V113.47M219.3 114.3V112.49M219.8 114.3V112.41M220.3 114.3V112.43M220.8 114.3V112.77M221.3 114.3V112.04M221.8 114.3V112.76M222.3 114.3V113.39M222.8 114.3V112.35M223.3 114.3V112.01M223.8 114.3V113.38M224.3 114.3V112.27M224.8 114.3V112.94M225.3 114.3V112.6M225.8 114.3V113.5M226.3 114.3V112.35M226.8 114.3V113.39M227.3 114.3V112.11M227.8 114.3V112.9M228.3 114.3V113.47M228.8 114.3V112.76M229.3 114.3V112.47M229.8 114.3V112.33M230.3 114.3V112.65M230.8 114.3V112.33M231.3 114.3V112.56M231.8 114.3V113.36M232.3 114.3V112.91M232.8 114.3V112.66M233.3 114.3V112.54M233.8 114.3V113.31M234.3 114.3V112.81M234.8 114.3V112.3M235.3 114.3V112.7M235.8 114.3V113.03M236.3 114.3V112.19M236.8 114.3V112.23M237.3 114.3V112.85M237.8 114.3V112.51M238.3 114.3V112.83M238.8 114.3V113.2M239.3 114.3V112.13M239.8 114.3V113.32M240.3 114.3V113.28M240.8 114.3V112.85M241.3 114.3V113.09M241.8 114.3V112.95M242.3 114.3V113.01M242.8 114.3V113.04M243.3 114.3V112.85M243.8 114.3V113.09M244.3 114.3V112.57M244.8 114.3V112.19M245.3 114.3V113.15M245.8 114.3V112.95M246.3 114.3V112.07M246.8 114.3V113.32M247.3 114.3V112.45M247.8 114.3V109.81M248.3 114.3V111.4M248.8 114.3V112.71M249.3 114.3V113.31M249.8 114.3V112.59M250.3 114.3V112.57M250.8 114.3V112.12M251.3 114.3V113.46M251.8 114.3V112.72M252.3 114.3V112.84M252.8 114.3V112.14M253.3 114.3V112.05M253.8 114.3V112.65M254.3 114.3V113.46M254.8 114.3V112.88M255.3 114.3V112.96M255.8 114.3V112.75M256.3 114.3V112.35M256.8 114.3V112.63M257.3 114.3V110.2M257.8 114.3V112.03M258.3 114.3V113M258.8 114.3V113.28M259.3 114.3V113.08M259.8 114.3V113.5M260.3 114.3V112.12M260.8 114.3V113.35M261.3 114.3V113.01M261.8 114.3V112.8M262.3 114.3V113.4M262.8 114.3V112.03M263.3 114.3V112.82M263.8 114.3V112.03M264.3 114.3V112.85M264.8 114.3V112.19M265.3 114.3V112.7M265.8 114.3V113.13M266.3 114.3V113.37M266.8 114.3V112.39M267.3 114.3V113.13M267.8 114.3V112.31M268.3 114.3V112.82M268.8 114.3V112.69M269.3 114.3V112.04M269.8 114.3V113.38M270.3 114.3V113.5M270.8 114.3V113.33M271.3 114.3V113.35M271.8 114.3V112.51M272.3 114.3V112.12M272.8 114.3V113.08M273.3 114.3V112.81M273.8 114.3V112.21M274.3 114.3V112.11M274.8 114.3V112.99M275.3 114.3V112.28M275.8 114.3V112.16M276.3 114.3V113M276.8 114.3V113.26M277.3 114.3V113.32M277.8 114.3V112.34M278.3 114.3V112.81M278.8 114.3V113.47M279.3 114.3V113.47M279.8 114.3V112.04M280.3 114.3V112.26M280.8 114.3V112.81M281.3 114.3V113.04M281.8 114.3V112.26M282.3 114.3V113.34M282.8 114.3V112.25M283.3 114.3V112.01M283.8 114.3V113.1M284.3 114.3V113.24M284.8 114.3V113.25M285.3 114.3V112.1M285.8 114.3V112.53M286.3 114.3V113.43M286.8 114.3V113.39M287.3 114.3V113.35M287.8 114.3V113.2M288.3 114.3V112.65M288.8 114.3V112.01M289.3 114.3V113.46M289.8 114.3V113.48M290.3 114.3V112.68M290.8 114.3V112.35M291.3 114.3V112.41M291.8 114.3V112.21M292.3 114.3V113.03M292.8 114.3V112.49M293.3 114.3V112.88M293.8 114.3V112.27M294.3 114.3V112.58M294.8 114.3V112.67M295.3 114.3V112.27M295.8 114.3V113.38M296.3 114.3V112.05M296.8 114.3V112.43M297.3 114.3V113.26M297.8 114.3V112.24M298.3 114.3V112.32M298.8 114.3V112.48M299.3 114.3V112.84M299.8 114.3V113.47M300.3 114.3V110.59M300.8 114.3V112.42M301.3 114.3V112.88M301.8 114.3V113.24M302.3 114.3V112.83M302.8 114.3V112.89M303.3 114.3V112.07M303.8 114.3V112.33M304.3 114.3V112.87M304.8 114.3V112.69M305.3 114.3V113.03M305.8 114.3V112.78M306.3 114.3V112.12M306.8 114.3V112.45M307.3 114.3V112.56M307.8 114.3V112.32M308.3 114.3V112.87M308.8 114.3V112.91M309.3 114.3V112.67M309.8 114.3V112.07M310.3 114.3V113.2M310.8 114.3V112.17M311.3 114.3V112.31M311.8 114.3V112.72M312.3 114.3V112.66M312.8 114.3V112.21M313.3 114.3V112.21M313.8 114.3V112.81M314.3 114.3V113.32M314.8 114.3V113.2M315.3 114.3V112.64M315.8 114.3V113.48M316.3 114.3V112.13M316.8 114.3V112.3M317.3 114.3V113.25M317.8 114.3V112.29M318.3 114.3V112.82M318.8 114.3V112.32M319.3 114.3V113.02M319.8 114.3V113.23M320.3 114.3V112.24M320.8 114.3V112.43M321.3 114.3V112.75M321.8 114.3V113.08M322.3 114.3V112.75M322.8 114.3V112.39M323.3 114.3V113.29M323.8 114.3V112.69M324.3 114.3V112.78M324.8 114.3V112.25M325.3 114.3V112.56M325.8 114.3V113.03M326.3 114.3V112.06M326.8 114.3V112.93M327.3 114.3V113.07M327.8 114.3V112.67M328.3 114.3V113.22M328.8 114.3V113.07M329.3 114.3V112.02M329.8 114.3V112.1M330.3 114.3V112.35M330.8 114.3V112.94M331.3 114.3V112.88M331.8 114.3V112.6M332.3 114.3V112.39M332.8 114.3V112.12M333.3 114.3V112.74M333.8 114.3V112.42M334.3 114.3V111.62M334.8 114.3V113.47M335.3 114.3V112.24M335.8 114.3V112.54M336.3 114.3V113.01M336.8 114.3V112.02M337.3 114.3V112.46M337.8 114.3V112.48M338.3 114.3V112.82M338.8 114.3V113.49M339.3 114.3V112.53M339.8 114.3V112.43M340.3 114.3V113.49M340.8 114.3V113.09M341.3 114.3V113.18M341.8 114.3V111.18M342.3 114.3V112.6M342.8 114.3V112.38M343.3 114.3V113.22M343.8 114.3V112.5M344.3 114.3V113.08M344.8 114.3V112.24M345.3 114.3V112.7M345.8 114.3V112.85M346.3 114.3V113.22M346.8 114.3V112.07M347.3 114.3V112.63M347.8 114.3V113.11M348.3 114.3V112.83M348.8 114.3V112.34M349.3 114.3V113.34M349.8 114.3V113.33M350.3 114.3V113.33M350.8 114.3V112.33M351.3 114.3V112.99M351.8 114.3V112.17M352.3 114.3V112.66M352.8 114.3V112.83M353.3 114.3V113.28M353.8 114.3V112.46M354.3 114.3V110.64M354.8 114.3V112.63M355.3 114.3V112.22M355.8 114.3V113.38M356.3 114.3V112.39M356.8 114.3V113.31M357.3 114.3V113.33M357.8 114.3V113.11M358.3 114.3V112.28M358.8 114.3V113.43M359.3 114.3V110.72M359.8 114.3V112.92M360.3 114.3V112.94M360.8 114.3V112.61M361.3 114.3V112.72M361.8 114.3V112.03M362.3 114.3V112.66M362.8 114.3V113.22M363.3 114.3V112.34M363.8 114.3V112.18M364.3 114.3V113.38M364.8 114.3V112.43M365.3 114.3V112.6M365.8 114.3V112.56M366.3 114.3V112.12M366.8 114.3V110.74M367.3 114.3V112.81M367.8 114.3V113.3M368.3 114.3V112.57M368.8 114.3V112.46M369.3 114.3V113.27M369.8 114.3V112.28M370.3 114.3V113.33M370.8 114.3V112.18M371.3 114.3V112.88M371.8 114.3V113.27M372.3 114.3V113.16M372.8 114.3V113.24M373.3 114.3V113.36M373.8 114.3V112.4M374.3 114.3V112.69M374.8 114.3V111.73M375.3 114.3V112.06M375.8 114.3V112.25M376.3 114.3V113.44M376.8 114.3V112.02M377.3 114.3V112.9M377.8 114.3V112.82M378.3 114.3V113.08" stroke="#222" stroke-width="0.5" fill="none" stroke-opacity="0.9"/>
<line x1="399.9" y1="114.6" x2="519.1" y2="114.6" stroke="#111" stroke-width="1.3"/>
<path d="M400.6 114.6V113.38M401.3 114.6V113.29M402 114.6V112.6M403.4 114.6V112.86M404.1 114.6V112.57M404.8 114.6V112.61M405.5 114.6V113.23M406.2 114.6V112.56M407.6 114.6V112.77M408.3 114.6V112.54M410.4 114.6V113.27M411.1 114.6V112.99M411.8 114.6V113.37M412.5 114.6V112.93M413.2 114.6V112.58M413.9 114.6V112.88M414.6 114.6V112.91M415.3 114.6V112.24M416.7 114.6V113.01M418.8 114.6V112.52M420.2 114.6V112.91M420.9 114.6V113.08M421.6 114.6V112.92M422.3 114.6V113.22M423 114.6V113.03M424.4 114.6V112.64M425.1 114.6V112.87M426.5 114.6V112.75M427.2 114.6V112.69M427.9 114.6V111.33M428.6 114.6V112.83M429.3 114.6V112.78M430 114.6V113.36M430.7 114.6V113.29M431.4 114.6V112.62M432.1 114.6V113.31M432.8 114.6V113.09M434.9 114.6V113.06M435.6 114.6V113.22M436.3 114.6V112.72M437 114.6V113.18M437.7 114.6V113.34M438.4 114.6V112.6M439.1 114.6V112.95M439.8 114.6V112.33M441.2 114.6V112.83M442.6 114.6V112.92M443.3 114.6V112.62M444 114.6V113.06M444.7 114.6V112.68M445.4 114.6V113.07M446.1 114.6V113.23M446.8 114.6V112.65M447.5 114.6V112.66M448.2 114.6V113.03M449.6 114.6V112.81M450.3 114.6V113.35M451 114.6V112.93M451.7 114.6V112.9M452.4 114.6V112.93M453.1 114.6V112.55M455.2 114.6V113.34M455.9 114.6V112.56M456.6 114.6V112.84M457.3 114.6V112.53M460.1 114.6V113.11M460.8 114.6V113.35M461.5 114.6V113.38M462.2 114.6V113M462.9 114.6V112.97M463.6 114.6V112.67M464.3 114.6V112.61M465 114.6V113.36M465.7 114.6V113.2M466.4 114.6V113.12M467.1 114.6V112.51M467.8 114.6V112.97M468.5 114.6V113.34M469.2 114.6V112.58M469.9 114.6V112.01M470.6 114.6V112.67M471.3 114.6V112.77M472 114.6V113.26M473.4 114.6V112.97M474.1 114.6V113.38M474.8 114.6V113.13M475.5 114.6V112.56M476.2 114.6V112.9M476.9 114.6V112.57M478.3 114.6V112.62M479 114.6V112.92M479.7 114.6V112.86M480.4 114.6V113.08M481.1 114.6V112.52M481.8 114.6V113.03M483.2 114.6V112.86M484.6 114.6V112.79M485.3 114.6V113.28M486 114.6V112.83M486.7 114.6V112.67M488.1 114.6V113.26M488.8 114.6V112.97M489.5 114.6V112.95M490.2 114.6V112.99M490.9 114.6V113.19M492.3 114.6V113.13M493.7 114.6V112.57M494.4 114.6V113.01M495.1 114.6V112.68M495.8 114.6V113.09M496.5 114.6V112.59M497.2 114.6V112.59M497.9 114.6V113.26M499.3 114.6V112.55M500 114.6V112.63M500.7 114.6V112.85M501.4 114.6V113.15M502.1 114.6V112.66M503.5 114.6V113.04M504.2 114.6V113.17M505.6 114.6V113.12M507 114.6V113.33M507.7 114.6V113.23M508.4 114.6V112.59M510.5 114.6V112.59M511.2 114.6V112.6M511.9 114.6V113.27M514 114.6V113.09M514.7 114.6V113.08M515.4 114.6V112.81M516.8 114.6V113.01M517.5 114.6V113.17M518.2 114.6V113.19M518.9 114.6V112.76" stroke="#222" stroke-width="0.6" fill="none"/>
<line x1="197.8" y1="114.3" x2="197.8" y2="110.3" stroke="#222" stroke-width="0.7"/>
<line x1="204" y1="114.3" x2="204" y2="111.3" stroke="#222" stroke-width="0.7"/>
<line x1="215.5" y1="114.3" x2="215.5" y2="110.8" stroke="#222" stroke-width="0.7"/>
<line x1="217.5" y1="114.3" x2="217.5" y2="110.3" stroke="#222" stroke-width="0.7"/>
<line x1="219" y1="114.3" x2="219" y2="111.3" stroke="#222" stroke-width="0.7"/>
<line x1="228" y1="114.3" x2="228" y2="111.3" stroke="#222" stroke-width="0.7"/>
<line x1="239.4" y1="114.3" x2="239.4" y2="110.3" stroke="#222" stroke-width="0.7"/>
<line x1="256" y1="114.3" x2="256" y2="111.3" stroke="#222" stroke-width="0.7"/>
<line x1="272.8" y1="114.3" x2="272.8" y2="111.3" stroke="#222" stroke-width="0.7"/>
<line x1="291" y1="114.3" x2="291" y2="111.3" stroke="#222" stroke-width="0.7"/>
<line x1="296" y1="114.3" x2="296" y2="111.1" stroke="#222" stroke-width="0.7"/>
<line x1="302" y1="114.3" x2="302" y2="111.3" stroke="#222" stroke-width="0.7"/>
<line x1="328.4" y1="114.3" x2="328.4" y2="108.8" stroke="#222" stroke-width="0.7"/>
<line x1="351.4" y1="114.3" x2="351.4" y2="109.3" stroke="#222" stroke-width="0.7"/>
<line x1="358" y1="114.3" x2="358" y2="110.8" stroke="#222" stroke-width="0.7"/>
<line x1="362" y1="114.3" x2="362" y2="110.5" stroke="#222" stroke-width="0.7"/>
<line x1="366" y1="114.3" x2="366" y2="111.1" stroke="#222" stroke-width="0.7"/>
<line x1="370" y1="114.3" x2="370" y2="110.7" stroke="#222" stroke-width="0.7"/>
<text x="240" y="123.7" font-size="7.72" font-weight="bold">Number of Sigificent Peaks</text>
<text x="428.3" y="123.9" font-size="7.77" font-weight="bold">Average Peak Width (Kb)</text>
<rect x="54.8" y="135.4" width="98.6" height="69.2" fill="#fff" stroke="#111" stroke-width="1.2"/>
<rect x="61.9" y="140.6" width="10.2" height="9.9" fill="#FDB863"/>
<text x="74.9" y="149.1" font-size="10.2">GPS/GEM</text>
<rect x="61.9" y="157.3" width="10.2" height="9.9" fill="#000"/>
<text x="74.9" y="165.8" font-size="10.2">hiddenDomains</text>
<rect x="61.9" y="174.1" width="10.2" height="9.9" fill="#A6CEE3"/>
<text x="74.9" y="182.6" font-size="10.2">Homer</text>
<rect x="61.9" y="190.8" width="10.2" height="9.9" fill="#1F78B4"/>
<text x="74.9" y="199.3" font-size="10.2">MACSv2</text>
<line x1="215.1" y1="159.9" x2="215.1" y2="262.4" stroke="#555" stroke-width="1.6"/>
<line x1="210.7" y1="262.4" x2="215.1" y2="262.4" stroke="#555" stroke-width="1.6"/>
<text x="206.9" y="264.7" font-size="6.4" text-anchor="end">0</text>
<line x1="210.7" y1="236.8" x2="215.1" y2="236.8" stroke="#555" stroke-width="1.6"/>
<text x="206.9" y="239.1" font-size="6.4" text-anchor="end">5000</text>
<line x1="210.7" y1="211.2" x2="215.1" y2="211.2" stroke="#555" stroke-width="1.6"/>
<text x="206.9" y="213.5" font-size="6.4" text-anchor="end">10000</text>
<line x1="210.7" y1="185.6" x2="215.1" y2="185.6" stroke="#555" stroke-width="1.6"/>
<text x="206.9" y="187.9" font-size="6.4" text-anchor="end">15000</text>
<line x1="210.7" y1="159.9" x2="215.1" y2="159.9" stroke="#555" stroke-width="1.6"/>
<text x="206.9" y="162.2" font-size="6.4" text-anchor="end">20000</text>
<rect x="220.8" y="137.8" width="29.6" height="124.6" fill="#FDB863" stroke="#333" stroke-width="1"/>
<rect x="257.2" y="214.6" width="29.6" height="47.8" fill="#000" stroke="#000" stroke-width="1"/>
<rect x="293.1" y="209.2" width="29.6" height="53.2" fill="#A6CEE3" stroke="#555" stroke-width="1"/>
<rect x="329.6" y="200.6" width="29.6" height="61.8" fill="#1F78B4" stroke="#222" stroke-width="1"/>
<line x1="398.4" y1="157.6" x2="398.4" y2="262.4" stroke="#111" stroke-width="1.1"/>
<line x1="394" y1="262.4" x2="398.4" y2="262.4" stroke="#111" stroke-width="1.1"/>
<text x="391.1" y="264.7" font-size="6.4" text-anchor="end">0.0</text>
<line x1="394" y1="241.3" x2="398.4" y2="241.3" stroke="#111" stroke-width="1.1"/>
<text x="391.1" y="243.6" font-size="6.4" text-anchor="end">0.2</text>
<line x1="394" y1="220.2" x2="398.4" y2="220.2" stroke="#111" stroke-width="1.1"/>
<text x="391.1" y="222.5" font-size="6.4" text-anchor="end">0.4</text>
<line x1="394" y1="199.5" x2="398.4" y2="199.5" stroke="#111" stroke-width="1.1"/>
<text x="391.1" y="201.8" font-size="6.4" text-anchor="end">0.6</text>
<line x1="394" y1="178.6" x2="398.4" y2="178.6" stroke="#111" stroke-width="1.1"/>
<text x="391.1" y="180.9" font-size="6.4" text-anchor="end">0.8</text>
<line x1="394" y1="157.6" x2="398.4" y2="157.6" stroke="#111" stroke-width="1.1"/>
<text x="391.1" y="159.9" font-size="6.4" text-anchor="end">1.0</text>
<rect x="404.3" y="241.6" width="29.8" height="20.8" fill="#FDB863" stroke="#333" stroke-width="1"/>
<rect x="440.8" y="137.3" width="29.8" height="125.1" fill="#000" stroke="#000" stroke-width="1"/>
<rect x="477" y="245.6" width="29.8" height="16.8" fill="#A6CEE3" stroke="#555" stroke-width="1"/>
<rect x="513.7" y="233.6" width="29.8" height="28.8" fill="#1F78B4" stroke="#222" stroke-width="1"/>
<line x1="31.3" y1="285.05" x2="31.3" y2="413.5" stroke="#666" stroke-width="1.7"/>
<line x1="30.45" y1="285.9" x2="182.1" y2="285.9" stroke="#666" stroke-width="1.7"/>
<line x1="181.6" y1="285.05" x2="181.6" y2="413.5" stroke="#111" stroke-width="1"/>
<line x1="30.45" y1="412.7" x2="182.1" y2="412.7" stroke="#666" stroke-width="1.6"/>
<line x1="26.9" y1="407.8" x2="30.45" y2="407.8" stroke="#111" stroke-width="1"/>
<text x="21.9" y="407.8" font-size="6.4" text-anchor="middle" transform="rotate(-90 21.9 407.8)">0</text>
<line x1="26.9" y1="383.9" x2="30.45" y2="383.9" stroke="#111" stroke-width="1"/>
<text x="21.9" y="383.9" font-size="6.4" text-anchor="middle" transform="rotate(-90 21.9 383.9)">5000</text>
<line x1="26.9" y1="360" x2="30.45" y2="360" stroke="#111" stroke-width="1"/>
<text x="21.9" y="360" font-size="6.4" text-anchor="middle" transform="rotate(-90 21.9 360)">10000</text>
<line x1="26.9" y1="336.1" x2="30.45" y2="336.1" stroke="#111" stroke-width="1"/>
<line x1="26.9" y1="312.2" x2="30.45" y2="312.2" stroke="#111" stroke-width="1"/>
<text x="21.9" y="312.2" font-size="6.4" text-anchor="middle" transform="rotate(-90 21.9 312.2)">20000</text>
<line x1="26.9" y1="288.3" x2="30.45" y2="288.3" stroke="#111" stroke-width="1"/>
<line x1="36.7" y1="412.7" x2="36.7" y2="417.1" stroke="#222" stroke-width="1"/>
<text x="36.7" y="427.2" font-size="6.4" text-anchor="middle">1</text>
<line x1="76.56" y1="412.7" x2="76.56" y2="417.1" stroke="#222" stroke-width="1"/>
<text x="76.56" y="427.2" font-size="6.4" text-anchor="middle">3</text>
<line x1="116.42" y1="412.7" x2="116.42" y2="417.1" stroke="#222" stroke-width="1"/>
<text x="116.42" y="427.2" font-size="6.4" text-anchor="middle">5</text>
<line x1="156.28" y1="412.7" x2="156.28" y2="417.1" stroke="#222" stroke-width="1"/>
<text x="156.28" y="427.2" font-size="6.4" text-anchor="middle">7</text>
<text x="106.45" y="443.8" font-size="6.6" text-anchor="middle">Sample Size (in millions)</text>
<text x="5.2" y="349.2" font-size="6.6" text-anchor="middle" transform="rotate(-90 5.2 349.2)">Count</text>
<text x="106.45" y="272.8" font-size="7.7" font-weight="bold" text-anchor="middle">Number of Peaks Called</text>
<path d="M38.84 363.86L54.49 344.48M59.49 340L93.63 318.14M99.73 315.29L172.97 292.24" stroke="#FDB863" stroke-width="1.45" fill="none"/>
<circle cx="36.7" cy="366.5" r="1.9" fill="#fff" fill-opacity="0.6" stroke="#FDB863" stroke-width="1.7"/>
<circle cx="56.63" cy="341.84" r="1.9" fill="#fff" fill-opacity="0.6" stroke="#FDB863" stroke-width="1.7"/>
<circle cx="96.49" cy="316.31" r="1.9" fill="#fff" fill-opacity="0.6" stroke="#FDB863" stroke-width="1.7"/>
<circle cx="176.21" cy="291.22" r="1.9" fill="#fff" fill-opacity="0.6" stroke="#FDB863" stroke-width="1.7"/>
<path d="M40.1 378.25L53.23 378.56M59.99 378.12L93.13 372.95M99.87 372.04L172.83 363.69" stroke="#000" stroke-width="1.45" fill="none"/>
<circle cx="36.7" cy="378.16" r="1.9" fill="#fff" fill-opacity="0.6" stroke="#000" stroke-width="1.7"/>
<circle cx="56.63" cy="378.64" r="1.9" fill="#fff" fill-opacity="0.6" stroke="#000" stroke-width="1.7"/>
<circle cx="96.49" cy="372.43" r="1.9" fill="#fff" fill-opacity="0.6" stroke="#000" stroke-width="1.7"/>
<circle cx="176.21" cy="363.3" r="1.9" fill="#fff" fill-opacity="0.6" stroke="#000" stroke-width="1.7"/>
<path d="M39.85 376.31L53.48 370.79M59.99 368.99L93.13 363.87M99.88 363.1L172.82 357.76" stroke="#A6CEE3" stroke-width="1.45" fill="none"/>
<circle cx="36.7" cy="377.59" r="1.9" fill="#fff" fill-opacity="0.6" stroke="#A6CEE3" stroke-width="1.7"/>
<circle cx="56.63" cy="369.51" r="1.9" fill="#fff" fill-opacity="0.6" stroke="#A6CEE3" stroke-width="1.7"/>
<circle cx="96.49" cy="363.35" r="1.9" fill="#fff" fill-opacity="0.6" stroke="#A6CEE3" stroke-width="1.7"/>
<circle cx="176.21" cy="357.51" r="1.9" fill="#fff" fill-opacity="0.6" stroke="#A6CEE3" stroke-width="1.7"/>
<path d="M39.96 380.93L53.37 376.98M59.87 374.99L93.25 364.51M99.84 362.92L172.86 350.48" stroke="#1F78B4" stroke-width="1.45" fill="none"/>
<circle cx="36.7" cy="381.89" r="1.9" fill="#fff" fill-opacity="0.6" stroke="#1F78B4" stroke-width="1.7"/>
<circle cx="56.63" cy="376.01" r="1.9" fill="#fff" fill-opacity="0.6" stroke="#1F78B4" stroke-width="1.7"/>
<circle cx="96.49" cy="363.49" r="1.9" fill="#fff" fill-opacity="0.6" stroke="#1F78B4" stroke-width="1.7"/>
<circle cx="176.21" cy="349.91" r="1.9" fill="#fff" fill-opacity="0.6" stroke="#1F78B4" stroke-width="1.7"/>
<line x1="214.8" y1="285.9" x2="214.8" y2="413.7" stroke="#666" stroke-width="1.7"/>
<line x1="213.95" y1="286.4" x2="366.1" y2="286.4" stroke="#111" stroke-width="1"/>
<line x1="365.6" y1="285.9" x2="365.6" y2="413.7" stroke="#111" stroke-width="1"/>
<line x1="213.95" y1="413" x2="366.1" y2="413" stroke="#222" stroke-width="1.4"/>
<line x1="210.4" y1="408.1" x2="213.95" y2="408.1" stroke="#111" stroke-width="1"/>
<text x="204.7" y="408.1" font-size="6.4" text-anchor="middle" transform="rotate(-90 204.7 408.1)">0.0</text>
<line x1="210.4" y1="384.68" x2="213.95" y2="384.68" stroke="#111" stroke-width="1"/>
<text x="204.7" y="384.68" font-size="6.4" text-anchor="middle" transform="rotate(-90 204.7 384.68)">0.2</text>
<line x1="210.4" y1="361.26" x2="213.95" y2="361.26" stroke="#111" stroke-width="1"/>
<text x="204.7" y="361.26" font-size="6.4" text-anchor="middle" transform="rotate(-90 204.7 361.26)">0.4</text>
<line x1="210.4" y1="337.84" x2="213.95" y2="337.84" stroke="#111" stroke-width="1"/>
<text x="204.7" y="337.84" font-size="6.4" text-anchor="middle" transform="rotate(-90 204.7 337.84)">0.6</text>
<line x1="210.4" y1="314.42" x2="213.95" y2="314.42" stroke="#111" stroke-width="1"/>
<text x="204.7" y="314.42" font-size="6.4" text-anchor="middle" transform="rotate(-90 204.7 314.42)">0.8</text>
<line x1="210.4" y1="291" x2="213.95" y2="291" stroke="#111" stroke-width="1"/>
<text x="204.7" y="291" font-size="6.4" text-anchor="middle" transform="rotate(-90 204.7 291)">1.0</text>
<line x1="220.3" y1="413" x2="220.3" y2="417.4" stroke="#222" stroke-width="1"/>
<text x="220.3" y="427.2" font-size="6.4" text-anchor="middle">1</text>
<line x1="260.24" y1="413" x2="260.24" y2="417.4" stroke="#222" stroke-width="1"/>
<text x="260.24" y="427.2" font-size="6.4" text-anchor="middle">3</text>
<line x1="300.18" y1="413" x2="300.18" y2="417.4" stroke="#222" stroke-width="1"/>
<text x="300.18" y="427.2" font-size="6.4" text-anchor="middle">5</text>
<line x1="340.12" y1="413" x2="340.12" y2="417.4" stroke="#222" stroke-width="1"/>
<text x="340.12" y="427.2" font-size="6.4" text-anchor="middle">7</text>
<text x="290.2" y="443.8" font-size="6.6" text-anchor="middle">Sample Size (in millions)</text>
<text x="189.7" y="349.2" font-size="6.6" text-anchor="middle" transform="rotate(-90 189.7 349.2)">Sensitivity</text>
<text x="290.2" y="272.8" font-size="7.7" font-weight="bold" text-anchor="middle">Peak Calling Sensitivity</text>
<path d="M223.27 325.65L237.3 317.83M243.67 316.03L276.81 314.57M283.6 314.16L356.7 308.48" stroke="#FDB863" stroke-width="1.45" fill="none"/>
<circle cx="220.3" cy="327.3" r="1.9" fill="#fff" fill-opacity="0.6" stroke="#FDB863" stroke-width="1.7"/>
<circle cx="240.27" cy="316.18" r="1.9" fill="#fff" fill-opacity="0.6" stroke="#FDB863" stroke-width="1.7"/>
<circle cx="280.21" cy="314.42" r="1.9" fill="#fff" fill-opacity="0.6" stroke="#FDB863" stroke-width="1.7"/>
<circle cx="360.09" cy="308.21" r="1.9" fill="#fff" fill-opacity="0.6" stroke="#FDB863" stroke-width="1.7"/>
<path d="M223.52 324.7L237.05 320.18M243.64 318.63L276.84 313.96M283.61 313.32L356.69 309.78" stroke="#000" stroke-width="1.45" fill="none"/>
<circle cx="220.3" cy="325.78" r="1.9" fill="#fff" fill-opacity="0.6" stroke="#000" stroke-width="1.7"/>
<circle cx="240.27" cy="319.1" r="1.9" fill="#fff" fill-opacity="0.6" stroke="#000" stroke-width="1.7"/>
<circle cx="280.21" cy="313.48" r="1.9" fill="#fff" fill-opacity="0.6" stroke="#000" stroke-width="1.7"/>
<circle cx="360.09" cy="309.62" r="1.9" fill="#fff" fill-opacity="0.6" stroke="#000" stroke-width="1.7"/>
<path d="M223.69 336.51L236.88 335.42M243.67 335.21L276.81 335.79M283.61 335.89L356.69 336.75" stroke="#A6CEE3" stroke-width="1.45" fill="none"/>
<circle cx="220.3" cy="336.79" r="1.9" fill="#fff" fill-opacity="0.6" stroke="#A6CEE3" stroke-width="1.7"/>
<circle cx="240.27" cy="335.15" r="1.9" fill="#fff" fill-opacity="0.6" stroke="#A6CEE3" stroke-width="1.7"/>
<circle cx="280.21" cy="335.85" r="1.9" fill="#fff" fill-opacity="0.6" stroke="#A6CEE3" stroke-width="1.7"/>
<circle cx="360.09" cy="336.79" r="1.9" fill="#fff" fill-opacity="0.6" stroke="#A6CEE3" stroke-width="1.7"/>
<path d="M223.5 329.43L237.07 324.58M243.64 323.01L276.84 318.83M283.6 318.18L356.7 313.36" stroke="#1F78B4" stroke-width="1.45" fill="none"/>
<circle cx="220.3" cy="330.58" r="1.9" fill="#fff" fill-opacity="0.6" stroke="#1F78B4" stroke-width="1.7"/>
<circle cx="240.27" cy="323.44" r="1.9" fill="#fff" fill-opacity="0.6" stroke="#1F78B4" stroke-width="1.7"/>
<circle cx="280.21" cy="318.4" r="1.9" fill="#fff" fill-opacity="0.6" stroke="#1F78B4" stroke-width="1.7"/>
<circle cx="360.09" cy="313.13" r="1.9" fill="#fff" fill-opacity="0.6" stroke="#1F78B4" stroke-width="1.7"/>
<line x1="405" y1="285.75" x2="405" y2="413.15" stroke="#666" stroke-width="1.7"/>
<line x1="404.15" y1="286.3" x2="556.6" y2="286.3" stroke="#111" stroke-width="1.1"/>
<line x1="555.8" y1="285.75" x2="555.8" y2="413.15" stroke="#666" stroke-width="1.6"/>
<line x1="404.15" y1="412.5" x2="556.6" y2="412.5" stroke="#222" stroke-width="1.3"/>
<line x1="400.6" y1="408.5" x2="404.15" y2="408.5" stroke="#111" stroke-width="1"/>
<text x="395.9" y="408.5" font-size="6.4" text-anchor="middle" transform="rotate(-90 395.9 408.5)">0</text>
<line x1="400.6" y1="384.95" x2="404.15" y2="384.95" stroke="#111" stroke-width="1"/>
<text x="395.9" y="384.95" font-size="6.4" text-anchor="middle" transform="rotate(-90 395.9 384.95)">20</text>
<line x1="400.6" y1="361.4" x2="404.15" y2="361.4" stroke="#111" stroke-width="1"/>
<text x="395.9" y="361.4" font-size="6.4" text-anchor="middle" transform="rotate(-90 395.9 361.4)">40</text>
<line x1="400.6" y1="337.85" x2="404.15" y2="337.85" stroke="#111" stroke-width="1"/>
<text x="395.9" y="337.85" font-size="6.4" text-anchor="middle" transform="rotate(-90 395.9 337.85)">60</text>
<line x1="400.6" y1="314.3" x2="404.15" y2="314.3" stroke="#111" stroke-width="1"/>
<text x="395.9" y="314.3" font-size="6.4" text-anchor="middle" transform="rotate(-90 395.9 314.3)">80</text>
<line x1="400.6" y1="290.75" x2="404.15" y2="290.75" stroke="#111" stroke-width="1"/>
<text x="395.9" y="290.75" font-size="6.4" text-anchor="middle" transform="rotate(-90 395.9 290.75)">100</text>
<line x1="410.5" y1="412.5" x2="410.5" y2="416.9" stroke="#222" stroke-width="1"/>
<text x="410.5" y="427.2" font-size="6.4" text-anchor="middle">1</text>
<line x1="450.36" y1="412.5" x2="450.36" y2="416.9" stroke="#222" stroke-width="1"/>
<text x="450.36" y="427.2" font-size="6.4" text-anchor="middle">3</text>
<line x1="490.22" y1="412.5" x2="490.22" y2="416.9" stroke="#222" stroke-width="1"/>
<text x="490.22" y="427.2" font-size="6.4" text-anchor="middle">5</text>
<line x1="530.08" y1="412.5" x2="530.08" y2="416.9" stroke="#222" stroke-width="1"/>
<text x="530.08" y="427.2" font-size="6.4" text-anchor="middle">7</text>
<text x="480.4" y="443.8" font-size="6.6" text-anchor="middle">Sample Size (in millions)</text>
<text x="380.2" y="349.2" font-size="6.6" text-anchor="middle" transform="rotate(-90 380.2 349.2)">Percentage</text>
<text x="480.4" y="272.8" font-size="7.7" font-weight="bold" text-anchor="middle">Percentage Overlap of Predicted Binding Sites</text>
<path d="M413.46 363.9L427.47 371.85M433.79 374.04L466.93 379.14M473.69 379.82L546.61 383.37" stroke="#FDB863" stroke-width="1.45" fill="none"/>
<circle cx="410.5" cy="362.22" r="1.9" fill="#fff" fill-opacity="0.6" stroke="#FDB863" stroke-width="1.7"/>
<circle cx="430.43" cy="373.53" r="1.9" fill="#fff" fill-opacity="0.6" stroke="#FDB863" stroke-width="1.7"/>
<circle cx="470.29" cy="379.65" r="1.9" fill="#fff" fill-opacity="0.6" stroke="#FDB863" stroke-width="1.7"/>
<circle cx="550.01" cy="383.54" r="1.9" fill="#fff" fill-opacity="0.6" stroke="#FDB863" stroke-width="1.7"/>
<path d="M413.65 338.58L427.28 333.11M433.79 332.39L466.93 337.78M473.68 338.61L546.62 344.75" stroke="#000" stroke-width="1.45" fill="none"/>
<circle cx="410.5" cy="339.85" r="1.9" fill="#fff" fill-opacity="0.6" stroke="#000" stroke-width="1.7"/>
<circle cx="430.43" cy="331.84" r="1.9" fill="#fff" fill-opacity="0.6" stroke="#000" stroke-width="1.7"/>
<circle cx="470.29" cy="338.32" r="1.9" fill="#fff" fill-opacity="0.6" stroke="#000" stroke-width="1.7"/>
<circle cx="550.01" cy="345.03" r="1.9" fill="#fff" fill-opacity="0.6" stroke="#000" stroke-width="1.7"/>
<path d="M413.69 353.87L427.24 358.92M433.82 360.34L466.9 362.58M473.69 362.94L546.61 365.63" stroke="#A6CEE3" stroke-width="1.45" fill="none"/>
<circle cx="410.5" cy="352.69" r="1.9" fill="#fff" fill-opacity="0.6" stroke="#A6CEE3" stroke-width="1.7"/>
<circle cx="430.43" cy="360.1" r="1.9" fill="#fff" fill-opacity="0.6" stroke="#A6CEE3" stroke-width="1.7"/>
<circle cx="470.29" cy="362.81" r="1.9" fill="#fff" fill-opacity="0.6" stroke="#A6CEE3" stroke-width="1.7"/>
<circle cx="550.01" cy="365.76" r="1.9" fill="#fff" fill-opacity="0.6" stroke="#A6CEE3" stroke-width="1.7"/>
<path d="M413.79 341.2L427.14 344.75M433.72 346.47L467 355.02M473.68 356.14L546.62 362.07" stroke="#1F78B4" stroke-width="1.45" fill="none"/>
<circle cx="410.5" cy="340.32" r="1.9" fill="#fff" fill-opacity="0.6" stroke="#1F78B4" stroke-width="1.7"/>
<circle cx="430.43" cy="345.62" r="1.9" fill="#fff" fill-opacity="0.6" stroke="#1F78B4" stroke-width="1.7"/>
<circle cx="470.29" cy="355.87" r="1.9" fill="#fff" fill-opacity="0.6" stroke="#1F78B4" stroke-width="1.7"/>
<circle cx="550.01" cy="362.34" r="1.9" fill="#fff" fill-opacity="0.6" stroke="#1F78B4" stroke-width="1.7"/>
<text x="95.8" y="454.7" font-size="6" text-anchor="end">Window Position</text>
<text x="95.8" y="460.5" font-size="6" text-anchor="end">Scale</text>
<text x="95.8" y="467.1" font-size="6" text-anchor="end">chr1:</text>
<text x="95.8" y="477.3" font-size="6" text-anchor="end">GPS/GEM</text>
<text x="95.8" y="487.9" font-size="6" text-anchor="end">hiddenDomains</text>
<text x="95.8" y="498.5" font-size="6" text-anchor="end">Homer</text>
<text x="95.8" y="508.6" font-size="6" text-anchor="end">MACSv2</text>
<text x="95.8" y="519.2" font-size="6" text-anchor="end" fill="#1a1a8c">RefSeq Genes</text>
<line x1="96.5" y1="449.5" x2="96.5" y2="587.5" stroke="#F7B8B8" stroke-width="0.8"/>
<text x="207.6" y="454.8" font-size="6">Human Feb. 2009 (GRCh37/hg19)</text>
<text x="303.5" y="454.8" font-size="6">chr1:160,997,149-161,406,950 (409,802 bp)</text>
<text x="242.6" y="460.1" font-size="6">100 kb</text>
<line x1="261.7" y1="458.2" x2="365.4" y2="458.2" stroke="#000" stroke-width="0.6"/>
<line x1="261.9" y1="456.2" x2="261.9" y2="460.2" stroke="#000" stroke-width="0.6"/>
<line x1="365.2" y1="456.2" x2="365.2" y2="460.6" stroke="#000" stroke-width="0.6"/>
<text x="374.1" y="460.4" font-size="6">hg19</text>
<text x="117.3" y="467.2" font-size="6">161,050,000</text>
<line x1="153.2" y1="462.3" x2="153.2" y2="467.3" stroke="#000" stroke-width="0.6"/>
<text x="171" y="467.2" font-size="6">161,100,000</text>
<line x1="206.9" y1="462.3" x2="206.9" y2="467.3" stroke="#000" stroke-width="0.6"/>
<text x="223.7" y="467.2" font-size="6">161,150,000</text>
<line x1="259.7" y1="462.3" x2="259.7" y2="467.3" stroke="#000" stroke-width="0.6"/>
<text x="276.5" y="467.2" font-size="6">161,200,000</text>
<line x1="312.4" y1="462.3" x2="312.4" y2="467.3" stroke="#000" stroke-width="0.6"/>
<text x="328.9" y="467.2" font-size="6">161,250,000</text>
<line x1="365.5" y1="462.3" x2="365.5" y2="467.3" stroke="#000" stroke-width="0.6"/>
<text x="382.8" y="467.2" font-size="6">161,300,000</text>
<line x1="419.4" y1="462.3" x2="419.4" y2="467.3" stroke="#000" stroke-width="0.6"/>
<text x="435.4" y="467.2" font-size="6">161,350,000</text>
<line x1="472.5" y1="462.3" x2="472.5" y2="467.3" stroke="#000" stroke-width="0.6"/>
<text x="488.7" y="467.2" font-size="6">161,400,000</text>
<line x1="524.6" y1="462.3" x2="524.6" y2="467.3" stroke="#000" stroke-width="0.6"/>
<line x1="100" y1="462.3" x2="100" y2="467.3" stroke="#000" stroke-width="0.6"/>
<text x="315" y="472.6" font-size="6" text-anchor="middle">GPS/GEM</text>
<text x="315" y="482.8" font-size="6" text-anchor="middle">hiddenDomains</text>
<text x="315" y="493.4" font-size="6" text-anchor="middle">Homer</text>
<text x="315" y="504.4" font-size="6" text-anchor="middle">MACSv2</text>
<text x="315.4" y="514.6" font-size="6" text-anchor="middle" fill="#2a2aa0">RefSeq Genes</text>
<text x="314.9" y="525.6" font-size="6" text-anchor="middle" fill="#D2532B">GABP</text>
<text x="315.6" y="558.7" font-size="6" text-anchor="middle">HEPG2 Control</text>
<path d="M100.7 467.5L98.4 469.9L100.7 472.3Z" stroke="#111" stroke-width="0.8" fill="none"/>
<path d="M102.9 467.5L100.6 469.9L102.9 472.3Z" stroke="#111" stroke-width="0.8" fill="none"/>
<path d="M526.9 467.5L529.2 469.9L526.9 472.3Z" stroke="#111" stroke-width="0.8" fill="none"/>
<path d="M529.3 467.5L531.6 469.9L529.3 472.3Z" stroke="#111" stroke-width="0.8" fill="none"/>
<path d="M100.7 478.3L98.4 480.7L100.7 483.1Z" stroke="#111" stroke-width="0.8" fill="none"/>
<path d="M102.9 478.3L100.6 480.7L102.9 483.1Z" stroke="#111" stroke-width="0.8" fill="none"/>
<path d="M526.9 478.3L529.2 480.7L526.9 483.1Z" stroke="#111" stroke-width="0.8" fill="none"/>
<path d="M529.3 478.3L531.6 480.7L529.3 483.1Z" stroke="#111" stroke-width="0.8" fill="none"/>
<path d="M100.7 488.8L98.4 491.2L100.7 493.6Z" stroke="#111" stroke-width="0.8" fill="none"/>
<path d="M102.9 488.8L100.6 491.2L102.9 493.6Z" stroke="#111" stroke-width="0.8" fill="none"/>
<path d="M526.9 488.8L529.2 491.2L526.9 493.6Z" stroke="#111" stroke-width="0.8" fill="none"/>
<path d="M529.3 488.8L531.6 491.2L529.3 493.6Z" stroke="#111" stroke-width="0.8" fill="none"/>
<path d="M100.7 499.6L98.4 502L100.7 504.4Z" stroke="#111" stroke-width="0.8" fill="none"/>
<path d="M102.9 499.6L100.6 502L102.9 504.4Z" stroke="#111" stroke-width="0.8" fill="none"/>
<path d="M526.9 499.6L529.2 502L526.9 504.4Z" stroke="#111" stroke-width="0.8" fill="none"/>
<path d="M529.3 499.6L531.6 502L529.3 504.4Z" stroke="#111" stroke-width="0.8" fill="none"/>
<line x1="116.8" y1="472.4" x2="116.8" y2="477.3" stroke="#222" stroke-width="1"/>
<line x1="116.8" y1="483" x2="116.8" y2="487.9" stroke="#222" stroke-width="1"/>
<line x1="116.8" y1="493.6" x2="116.8" y2="498.5" stroke="#222" stroke-width="1"/>
<line x1="116.8" y1="504.2" x2="116.8" y2="509.1" stroke="#222" stroke-width="1"/>
<line x1="122.3" y1="504.2" x2="122.3" y2="509.1" stroke="#222" stroke-width="1"/>
<line x1="139.6" y1="472.4" x2="139.6" y2="477.3" stroke="#222" stroke-width="1"/>
<line x1="139.6" y1="504.2" x2="139.6" y2="509.1" stroke="#222" stroke-width="1"/>
<line x1="147" y1="493.6" x2="147" y2="498.5" stroke="#222" stroke-width="1"/>
<line x1="147" y1="504.2" x2="147" y2="509.1" stroke="#222" stroke-width="1"/>
<line x1="173" y1="483" x2="173" y2="487.9" stroke="#222" stroke-width="1"/>
<line x1="173" y1="504.2" x2="173" y2="509.1" stroke="#222" stroke-width="1"/>
<line x1="176.2" y1="504.2" x2="176.2" y2="509.1" stroke="#222" stroke-width="1"/>
<line x1="193.5" y1="472.4" x2="193.5" y2="477.3" stroke="#222" stroke-width="1"/>
<line x1="193.5" y1="483" x2="193.5" y2="487.9" stroke="#222" stroke-width="1"/>
<line x1="193.5" y1="493.6" x2="193.5" y2="498.5" stroke="#222" stroke-width="1"/>
<line x1="193.5" y1="504.2" x2="193.5" y2="509.1" stroke="#222" stroke-width="1"/>
<line x1="209" y1="472.4" x2="209" y2="477.3" stroke="#222" stroke-width="1"/>
<line x1="209" y1="483" x2="209" y2="487.9" stroke="#222" stroke-width="1"/>
<line x1="209" y1="493.6" x2="209" y2="498.5" stroke="#222" stroke-width="1"/>
<line x1="209" y1="504.2" x2="209" y2="509.1" stroke="#222" stroke-width="1"/>
<line x1="231.8" y1="472.4" x2="231.8" y2="477.3" stroke="#222" stroke-width="1"/>
<line x1="231.8" y1="483" x2="231.8" y2="487.9" stroke="#222" stroke-width="1"/>
<line x1="231.8" y1="493.6" x2="231.8" y2="498.5" stroke="#222" stroke-width="1"/>
<line x1="231.8" y1="504.2" x2="231.8" y2="509.1" stroke="#222" stroke-width="1"/>
<line x1="245.3" y1="493.6" x2="245.3" y2="498.5" stroke="#222" stroke-width="1"/>
<line x1="245.3" y1="504.2" x2="245.3" y2="509.1" stroke="#222" stroke-width="1"/>
<line x1="256.5" y1="493.6" x2="256.5" y2="498.5" stroke="#222" stroke-width="1"/>
<line x1="256.5" y1="504.2" x2="256.5" y2="509.1" stroke="#222" stroke-width="1"/>
<line x1="282.6" y1="472.4" x2="282.6" y2="477.3" stroke="#222" stroke-width="1"/>
<line x1="282.6" y1="483" x2="282.6" y2="487.9" stroke="#222" stroke-width="1"/>
<line x1="282.6" y1="493.6" x2="282.6" y2="498.5" stroke="#222" stroke-width="1"/>
<line x1="282.6" y1="504.2" x2="282.6" y2="509.1" stroke="#222" stroke-width="1"/>
<line x1="286.9" y1="504.2" x2="286.9" y2="509.1" stroke="#222" stroke-width="1"/>
<line x1="278.5" y1="504.2" x2="278.5" y2="509.1" stroke="#222" stroke-width="1"/>
<line x1="309.3" y1="504.2" x2="309.3" y2="509.1" stroke="#222" stroke-width="1"/>
<line x1="334.3" y1="472.4" x2="334.3" y2="477.3" stroke="#222" stroke-width="1"/>
<line x1="334.3" y1="493.6" x2="334.3" y2="498.5" stroke="#222" stroke-width="1"/>
<line x1="334.3" y1="504.2" x2="334.3" y2="509.1" stroke="#222" stroke-width="1"/>
<line x1="350.5" y1="472.4" x2="350.5" y2="477.3" stroke="#222" stroke-width="1"/>
<line x1="350.5" y1="493.6" x2="350.5" y2="498.5" stroke="#222" stroke-width="1"/>
<line x1="350.5" y1="504.2" x2="350.5" y2="509.1" stroke="#222" stroke-width="1"/>
<line x1="367.3" y1="504.2" x2="367.3" y2="509.1" stroke="#222" stroke-width="1"/>
<line x1="393.4" y1="472.4" x2="393.4" y2="477.3" stroke="#222" stroke-width="1"/>
<line x1="393.4" y1="493.6" x2="393.4" y2="498.5" stroke="#222" stroke-width="1"/>
<line x1="393.4" y1="504.2" x2="393.4" y2="509.1" stroke="#222" stroke-width="1"/>
<line x1="395.1" y1="504.2" x2="395.1" y2="509.1" stroke="#222" stroke-width="1"/>
<line x1="402.5" y1="472.4" x2="402.5" y2="477.3" stroke="#222" stroke-width="1"/>
<line x1="402.5" y1="483" x2="402.5" y2="487.9" stroke="#222" stroke-width="1"/>
<line x1="402.5" y1="493.6" x2="402.5" y2="498.5" stroke="#222" stroke-width="1"/>
<line x1="402.5" y1="504.2" x2="402.5" y2="509.1" stroke="#222" stroke-width="1"/>
<line x1="417.6" y1="504.2" x2="417.6" y2="509.1" stroke="#222" stroke-width="1"/>
<line x1="442.9" y1="504.2" x2="442.9" y2="509.1" stroke="#222" stroke-width="1"/>
<line x1="473.3" y1="504.2" x2="473.3" y2="509.1" stroke="#222" stroke-width="1"/>
<line x1="482.4" y1="472.4" x2="482.4" y2="477.3" stroke="#222" stroke-width="1"/>
<line x1="482.4" y1="483" x2="482.4" y2="487.9" stroke="#222" stroke-width="1"/>
<line x1="482.4" y1="493.6" x2="482.4" y2="498.5" stroke="#222" stroke-width="1"/>
<line x1="482.4" y1="504.2" x2="482.4" y2="509.1" stroke="#222" stroke-width="1"/>
<line x1="492.6" y1="472.4" x2="492.6" y2="477.3" stroke="#222" stroke-width="1"/>
<line x1="492.6" y1="483" x2="492.6" y2="487.9" stroke="#222" stroke-width="1"/>
<line x1="492.6" y1="493.6" x2="492.6" y2="498.5" stroke="#222" stroke-width="1"/>
<line x1="492.6" y1="504.2" x2="492.6" y2="509.1" stroke="#222" stroke-width="1"/>
<line x1="494.3" y1="472.4" x2="494.3" y2="477.3" stroke="#222" stroke-width="1"/>
<line x1="494.3" y1="504.2" x2="494.3" y2="509.1" stroke="#222" stroke-width="1"/>
<line x1="500.5" y1="472.4" x2="500.5" y2="477.3" stroke="#222" stroke-width="1"/>
<line x1="500.5" y1="493.6" x2="500.5" y2="498.5" stroke="#222" stroke-width="1"/>
<line x1="500.5" y1="504.2" x2="500.5" y2="509.1" stroke="#222" stroke-width="1"/>
<line x1="516.6" y1="504.2" x2="516.6" y2="509.1" stroke="#222" stroke-width="1"/>
<line x1="523.6" y1="472.4" x2="523.6" y2="477.3" stroke="#222" stroke-width="1"/>
<line x1="523.6" y1="493.6" x2="523.6" y2="498.5" stroke="#222" stroke-width="1"/>
<line x1="523.6" y1="504.2" x2="523.6" y2="509.1" stroke="#222" stroke-width="1"/>
<line x1="100" y1="472.4" x2="100" y2="477.3" stroke="#222" stroke-width="1"/>
<line x1="100" y1="483" x2="100" y2="487.9" stroke="#222" stroke-width="1"/>
<line x1="100" y1="493.6" x2="100" y2="498.5" stroke="#222" stroke-width="1"/>
<line x1="100" y1="504.2" x2="100" y2="509.1" stroke="#222" stroke-width="1"/>
<line x1="147" y1="504.2" x2="147" y2="509.1" stroke="#000" stroke-width="1.5"/>
<line x1="193.5" y1="504.2" x2="193.5" y2="509.1" stroke="#000" stroke-width="1.5"/>
<line x1="116.8" y1="472.4" x2="116.8" y2="477.3" stroke="#000" stroke-width="1.5"/>
<line x1="116.8" y1="504.2" x2="116.8" y2="509.1" stroke="#000" stroke-width="1.5"/>
<line x1="282.5" y1="483.2" x2="282.5" y2="487.6" stroke="#111" stroke-width="2"/>
<line x1="321.4" y1="473" x2="321.4" y2="477.5" stroke="#222" stroke-width="0.9"/>
<line x1="109" y1="517.5" x2="163.4" y2="517.5" stroke="#5050b0" stroke-width="0.9"/>
<line x1="172.5" y1="517.5" x2="209.6" y2="517.5" stroke="#5050b0" stroke-width="0.9"/>
<line x1="231.1" y1="517.5" x2="256.4" y2="517.5" stroke="#5050b0" stroke-width="0.9"/>
<line x1="269.4" y1="517.5" x2="322.1" y2="517.5" stroke="#5050b0" stroke-width="0.9"/>
<line x1="343.1" y1="517.5" x2="371" y2="517.5" stroke="#5050b0" stroke-width="0.9"/>
<line x1="392" y1="517.5" x2="397.5" y2="517.5" stroke="#5050b0" stroke-width="0.9"/>
<line x1="401.8" y1="517.5" x2="459.4" y2="517.5" stroke="#5050b0" stroke-width="0.9"/>
<rect x="127.5" y="515" width="0.6" height="5" fill="#0A0A7E"/>
<rect x="129.4" y="515" width="0.6" height="5" fill="#0A0A7E"/>
<rect x="131.8" y="515" width="0.6" height="5" fill="#0A0A7E"/>
<rect x="153.5" y="515" width="0.6" height="5" fill="#0A0A7E"/>
<rect x="163" y="515" width="0.6" height="5" fill="#0A0A7E"/>
<rect x="231" y="515" width="0.6" height="5" fill="#0A0A7E"/>
<rect x="286.7" y="515" width="0.6" height="5" fill="#0A0A7E"/>
<rect x="287.5" y="515" width="0.6" height="5" fill="#0A0A7E"/>
<rect x="343" y="515" width="0.6" height="5" fill="#0A0A7E"/>
<rect x="397.2" y="515" width="0.6" height="5" fill="#0A0A7E"/>
<rect x="401.6" y="515" width="0.6" height="5" fill="#0A0A7E"/>
<rect x="412.2" y="515" width="0.6" height="5" fill="#0A0A7E"/>
<rect x="417.1" y="515" width="0.6" height="5" fill="#0A0A7E"/>
<rect x="447.2" y="515" width="0.6" height="5" fill="#0A0A7E"/>
<rect x="459.2" y="515" width="0.6" height="5" fill="#0A0A7E"/>
<rect x="109" y="515" width="1.8" height="5" fill="#0A0A7E"/>
<rect x="111.4" y="515" width="1.9" height="5" fill="#0A0A7E"/>
<rect x="117.6" y="515" width="1.9" height="5" fill="#0A0A7E"/>
<rect x="119.5" y="515" width="1" height="5" fill="#0A0A7E"/>
<rect x="121" y="515" width="1.5" height="5" fill="#0A0A7E"/>
<rect x="124" y="515" width="1.6" height="5" fill="#0A0A7E"/>
<rect x="141.7" y="515" width="1.6" height="5" fill="#0A0A7E"/>
<rect x="143.6" y="515" width="3.2" height="5" fill="#0A0A7E"/>
<rect x="172.5" y="515" width="3.1" height="5" fill="#0A0A7E"/>
<rect x="193.5" y="515" width="3.1" height="5" fill="#0A0A7E"/>
<rect x="196.6" y="515" width="3" height="5" fill="#0A0A7E"/>
<rect x="234.8" y="515" width="2.5" height="5" fill="#0A0A7E"/>
<rect x="239.7" y="515" width="1.6" height="5" fill="#0A0A7E"/>
<rect x="241.8" y="515" width="2.7" height="5" fill="#0A0A7E"/>
<rect x="244.7" y="515" width="5.1" height="5" fill="#0A0A7E"/>
<rect x="278.7" y="515" width="2.5" height="5" fill="#0A0A7E"/>
<rect x="283" y="515" width="2" height="5" fill="#0A0A7E"/>
<rect x="288.6" y="515" width="1.4" height="5" fill="#0A0A7E"/>
<rect x="290.7" y="515" width="1.6" height="5" fill="#0A0A7E"/>
<rect x="293.5" y="515" width="1" height="5" fill="#0A0A7E"/>
<rect x="295.3" y="515" width="0.7" height="5" fill="#0A0A7E"/>
<rect x="299.8" y="515" width="1.2" height="5" fill="#0A0A7E"/>
<rect x="304.2" y="515" width="1.8" height="5" fill="#0A0A7E"/>
<rect x="308.5" y="515" width="6.2" height="5" fill="#0A0A7E"/>
<rect x="315.9" y="515" width="2.5" height="5" fill="#0A0A7E"/>
<rect x="320.9" y="515" width="1.2" height="5" fill="#0A0A7E"/>
<rect x="369" y="515" width="2.2" height="5" fill="#0A0A7E"/>
<rect x="392" y="515" width="2.4" height="5" fill="#0A0A7E"/>
<rect x="452.6" y="515" width="2.4" height="5" fill="#0A0A7E"/>
<rect x="113.3" y="515.2" width="4.1" height="4.6" fill="#5a5ab8"/>
<rect x="122.6" y="515.2" width="1.3" height="4.6" fill="#5a5ab8"/>
<rect x="149.1" y="515.2" width="2.5" height="4.6" fill="#5a5ab8"/>
<rect x="175.6" y="515.2" width="2.4" height="4.6" fill="#5a5ab8"/>
<rect x="237.3" y="515.2" width="2.4" height="4.6" fill="#5a5ab8"/>
<rect x="250.9" y="515.2" width="5.3" height="4.6" fill="#5a5ab8"/>
<rect x="269.6" y="515.2" width="8.9" height="4.6" fill="#5a5ab8"/>
<rect x="455" y="515.2" width="2.5" height="4.6" fill="#5a5ab8"/>
<path d="M208.1 516L209.4 517.5L208.1 519L206.8 517.5Z" stroke="none" stroke-width="1" fill="#0A0A7E"/>
<path d="M199.6 515Q201.6 517.5 199.6 520Z" stroke="none" stroke-width="1" fill="#0A0A7E"/>
<path d="M249.8 515Q252.0 517.5 249.8 520Z" stroke="none" stroke-width="1" fill="#0A0A7E"/>
<path d="M429.0 517.5L430.4 516.2L430.4 518.8Z" stroke="none" stroke-width="1" fill="#0A0A7E"/>
<text x="90.2" y="525.6" font-size="5.8" text-anchor="end" fill="#D2532B">5</text>
<line x1="92" y1="526" x2="95.6" y2="526" stroke="#D2532B" stroke-width="0.6"/>
<text x="33.1" y="538.7" font-size="5.9" fill="#D2532B">GABP</text>
<text x="90.2" y="553.6" font-size="5.8" text-anchor="end" fill="#D2532B">0</text>
<line x1="92" y1="554.2" x2="95.6" y2="554.2" stroke="#D2532B" stroke-width="0.6"/>
<text x="90.2" y="558.5" font-size="5.8" text-anchor="end">5</text>
<line x1="92" y1="558.9" x2="95.6" y2="558.9" stroke="#000" stroke-width="0.6"/>
<text x="33.1" y="571.8" font-size="5.9">HEPG2control</text>
<text x="90.2" y="587.1" font-size="5.8" text-anchor="end">0</text>
<line x1="92" y1="587.5" x2="95.6" y2="587.5" stroke="#000" stroke-width="0.6"/>
<path d="M98 554.2V552.2M100.78 554.2V552.2M103.22 554.2V552.2M105.26 554.2V552.06M109.92 554.2V552.2M119.94 554.2V551.74M122.92 554.2V552.2M125.69 554.2V552.2M127.76 554.2V552.2M130.58 554.2V552.2M133.28 554.2V552.2M144.03 554.2V552.2M146.17 554.2V552.2M148.36 554.2V551.2M154.32 554.2V552.2M162.72 554.2V552.2M170.55 554.2V552.2M173.36 554.2V552.2M175.56 554.2V551.05M177.71 554.2V552.2M180.76 554.2V552.2M188.74 554.2V552.2M193.98 554.2V552.2M196.26 554.2V552.2M198.57 554.2V552.2M209.59 554.2V552.2M215.48 554.2V552.2M219.68 554.2V552.2M221.88 554.2V552.2M224.06 554.2V552.2M228.83 554.2V552.2M231.24 554.2V550.93M234.43 554.2V552.2M236.54 554.2V552.2M241.05 554.2V552.2M243.68 554.2V552.2M245.72 554.2V552.2M251.06 554.2V552.2M253.99 554.2V552.2M256.39 554.2V552.2M265.42 554.2V552.2M267.85 554.2V551.78M273.31 554.2V552.2M278.93 554.2V552.2M281.17 554.2V552.2M289.78 554.2V552.2M295.78 554.2V552.2M298.72 554.2V552.2M301.89 554.2V552.2M307.23 554.2V552.2M318.09 554.2V552.18M329.4 554.2V552.2M331.75 554.2V552.2M334.06 554.2V550.83M336.48 554.2V552.2M339.57 554.2V552.2M342.17 554.2V552.2M344.19 554.2V552.2M348.4 554.2V552.2M351.07 554.2V552.2M358.16 554.2V552.2M368.82 554.2V552.2M371.37 554.2V552.2M385.16 554.2V552.2M387.24 554.2V551.2M395.16 554.2V552.2M398.32 554.2V552.2M400.8 554.2V552.2M403.8 554.2V552.2M406.42 554.2V552.2M413.35 554.2V552.2M416.1 554.2V550.72M421.17 554.2V551.03M423.5 554.2V552.2M428.9 554.2V552.2M433.69 554.2V552.2M436.2 554.2V552.2M445.69 554.2V552.2M448.8 554.2V551.41M451.09 554.2V552.2M453.15 554.2V552.2M457.86 554.2V552.2M460.28 554.2V552.2M464.96 554.2V552.2M468.08 554.2V552.2M470.6 554.2V552.2M473.07 554.2V552.2M476.25 554.2V552.2M481.58 554.2V552.01M485.98 554.2V550.94M491.36 554.2V552.2M493.91 554.2V552.2M499.39 554.2V552.2M502.55 554.2V552.2M504.55 554.2V552.2M507.16 554.2V552.2M509.16 554.2V551.6M511.21 554.2V552.2M521.97 554.2V552.2M525.15 554.2V552.2M527.92 554.2V552.2" stroke="#D2532B" stroke-width="0.9" fill="none" stroke-opacity="0.85"/>
<line x1="116.2" y1="554" x2="116.2" y2="529.3" stroke="#D2532B" stroke-width="0.9" stroke-opacity="0.45"/>
<line x1="116.2" y1="554" x2="116.2" y2="539.18" stroke="#D2532B" stroke-width="0.9"/>
<line x1="193.4" y1="554" x2="193.4" y2="525.1" stroke="#D2532B" stroke-width="0.9" stroke-opacity="0.45"/>
<line x1="193.4" y1="554" x2="193.4" y2="536.66" stroke="#D2532B" stroke-width="0.9"/>
<line x1="208.7" y1="554" x2="208.7" y2="548.8" stroke="#D2532B" stroke-width="0.9" stroke-opacity="0.45"/>
<line x1="208.7" y1="554" x2="208.7" y2="550.88" stroke="#D2532B" stroke-width="0.9"/>
<line x1="231.6" y1="554" x2="231.6" y2="547" stroke="#D2532B" stroke-width="0.9" stroke-opacity="0.45"/>
<line x1="231.6" y1="554" x2="231.6" y2="549.8" stroke="#D2532B" stroke-width="0.9"/>
<line x1="282.9" y1="554" x2="282.9" y2="539" stroke="#D2532B" stroke-width="0.9" stroke-opacity="0.45"/>
<line x1="282.9" y1="554" x2="282.9" y2="545" stroke="#D2532B" stroke-width="0.9"/>
<line x1="319.8" y1="554" x2="319.8" y2="549" stroke="#D2532B" stroke-width="0.9" stroke-opacity="0.45"/>
<line x1="319.8" y1="554" x2="319.8" y2="551" stroke="#D2532B" stroke-width="0.9"/>
<line x1="401.5" y1="554" x2="401.5" y2="532.7" stroke="#D2532B" stroke-width="0.9" stroke-opacity="0.45"/>
<line x1="401.5" y1="554" x2="401.5" y2="541.22" stroke="#D2532B" stroke-width="0.9"/>
<line x1="492.2" y1="554" x2="492.2" y2="541.2" stroke="#D2532B" stroke-width="0.9" stroke-opacity="0.45"/>
<line x1="492.2" y1="554" x2="492.2" y2="546.32" stroke="#D2532B" stroke-width="0.9"/>
<line x1="358" y1="554" x2="358" y2="549.5" stroke="#D2532B" stroke-width="0.9" stroke-opacity="0.45"/>
<line x1="358" y1="554" x2="358" y2="551.3" stroke="#D2532B" stroke-width="0.9"/>
<line x1="480" y1="554" x2="480" y2="549.5" stroke="#D2532B" stroke-width="0.9" stroke-opacity="0.45"/>
<line x1="480" y1="554" x2="480" y2="551.3" stroke="#D2532B" stroke-width="0.9"/>
<line x1="505" y1="554" x2="505" y2="550" stroke="#D2532B" stroke-width="0.9" stroke-opacity="0.45"/>
<line x1="505" y1="554" x2="505" y2="551.6" stroke="#D2532B" stroke-width="0.9"/>
<path d="M117 586.3h0.8M137 586.3h0.8M148 586.3h0.8M164 586.3h0.8M181 586.3h0.8M192 586.3h0.8M205 586.3h0.8M209 586.3h0.8M214 586.3h0.8M220 586.3h0.8M229 586.3h0.8M252 586.3h0.8M268 586.3h0.8M286 586.3h0.8M290 586.3h0.8M294 586.3h0.8M302 586.3h0.8M321 586.3h0.8M335 586.3h0.8M341 586.3h0.8M358 586.3h0.8M372 586.3h0.8M380 586.3h0.8M392 586.3h0.8M402 586.3h0.8M415 586.3h0.8M440 586.3h0.8M446 586.3h0.8M452 586.3h0.8M468 586.3h0.8M476 586.3h0.8M486 586.3h0.8M491 586.3h0.8M500 586.3h0.8M508 586.3h0.8M514 586.3h0.8M519 586.3h0.8" stroke="#555" stroke-width="1" fill="none"/>
<rect x="61.7" y="590.3" width="10.4" height="10.2" fill="#FDB863"/>
<text x="74.8" y="598.9" font-size="10.2">GPS/GEM</text>
<rect x="128.9" y="590.3" width="10.4" height="10.2" fill="#000"/>
<text x="141.6" y="598.9" font-size="10.2">hiddenDomains</text>
<rect x="218.7" y="590.3" width="10.4" height="10.2" fill="#979797"/>
<text x="232.9" y="598.9" font-size="10.2">hiddenDomains (peakCenters)</text>
<rect x="375.5" y="590.3" width="10.4" height="10.2" fill="#A6CEE3"/>
<text x="389.3" y="598.9" font-size="10.2">Homer</text>
<rect x="425.4" y="590.3" width="10.4" height="10.2" fill="#1F78B4"/>
<text x="438.7" y="598.9" font-size="10.2">MACSv2</text>
<text x="70.8" y="611.6" font-size="6.54" font-weight="bold">Number of qPCR <tspan font-style="italic">Sites</tspan> Called <tspan font-style="italic">Sigificant</tspan></text>
<text x="238.9" y="611.3" font-size="6.46" font-weight="bold">Number of Predicted <tspan font-style="italic">Sites</tspan> Called <tspan font-style="italic">Sigificant</tspan></text>
<text x="408" y="611.3" font-size="6.47" font-weight="bold">Percentage Overlap of Predicted Binding <tspan font-style="italic">Sites</tspan></text>
<line x1="68.9" y1="622.7" x2="68.9" y2="726.9" stroke="#555" stroke-width="1.5"/>
<line x1="64.5" y1="726.9" x2="68.9" y2="726.9" stroke="#555" stroke-width="1.5"/>
<text x="62.9" y="729.06" font-size="6" text-anchor="end">0</text>
<line x1="64.5" y1="706.4" x2="68.9" y2="706.4" stroke="#555" stroke-width="1.5"/>
<text x="62.9" y="708.56" font-size="6" text-anchor="end">20</text>
<line x1="64.5" y1="685.5" x2="68.9" y2="685.5" stroke="#555" stroke-width="1.5"/>
<text x="62.9" y="687.66" font-size="6" text-anchor="end">40</text>
<line x1="64.5" y1="664.4" x2="68.9" y2="664.4" stroke="#555" stroke-width="1.5"/>
<text x="62.9" y="666.56" font-size="6" text-anchor="end">60</text>
<line x1="64.5" y1="643.5" x2="68.9" y2="643.5" stroke="#555" stroke-width="1.5"/>
<text x="62.9" y="645.66" font-size="6" text-anchor="end">80</text>
<line x1="64.5" y1="622.7" x2="68.9" y2="622.7" stroke="#555" stroke-width="1.5"/>
<text x="62.9" y="624.86" font-size="6" text-anchor="end">100</text>
<rect x="74" y="623.2" width="19.4" height="103.7" fill="#FDB863" stroke="#333" stroke-width="1"/>
<rect x="98.3" y="623.7" width="19.4" height="103.2" fill="#000" stroke="#000" stroke-width="1"/>
<rect x="122.4" y="630.6" width="19.4" height="96.3" fill="#979797" stroke="#222" stroke-width="1"/>
<rect x="146.6" y="646" width="19.4" height="80.9" fill="#A6CEE3" stroke="#333" stroke-width="1"/>
<rect x="170.5" y="630.2" width="19.4" height="96.7" fill="#1F78B4" stroke="#222" stroke-width="1"/>
<line x1="242.7" y1="634.9" x2="242.7" y2="726.9" stroke="#111" stroke-width="1"/>
<line x1="238.3" y1="726.9" x2="242.7" y2="726.9" stroke="#111" stroke-width="1"/>
<text x="236.7" y="729.06" font-size="6" text-anchor="end">0</text>
<line x1="238.3" y1="708.7" x2="242.7" y2="708.7" stroke="#111" stroke-width="1"/>
<text x="236.7" y="710.86" font-size="6" text-anchor="end">1000</text>
<line x1="238.3" y1="690.3" x2="242.7" y2="690.3" stroke="#111" stroke-width="1"/>
<text x="236.7" y="692.46" font-size="6" text-anchor="end">2000</text>
<line x1="238.3" y1="671.9" x2="242.7" y2="671.9" stroke="#111" stroke-width="1"/>
<text x="236.7" y="674.06" font-size="6" text-anchor="end">3000</text>
<line x1="238.3" y1="653.5" x2="242.7" y2="653.5" stroke="#111" stroke-width="1"/>
<text x="236.7" y="655.66" font-size="6" text-anchor="end">4000</text>
<line x1="238.3" y1="634.9" x2="242.7" y2="634.9" stroke="#111" stroke-width="1"/>
<text x="236.7" y="637.06" font-size="6" text-anchor="end">5000</text>
<rect x="248.3" y="643.9" width="19.2" height="83" fill="#FDB863" stroke="#333" stroke-width="1"/>
<rect x="272.2" y="622.6" width="19.2" height="104.3" fill="#000" stroke="#000" stroke-width="1"/>
<rect x="296.1" y="651.8" width="19.2" height="75.1" fill="#979797" stroke="#222" stroke-width="1"/>
<rect x="319.6" y="665.3" width="19.2" height="61.6" fill="#A6CEE3" stroke="#333" stroke-width="1"/>
<rect x="343.7" y="652.7" width="19.2" height="74.2" fill="#1F78B4" stroke="#222" stroke-width="1"/>
<line x1="416.5" y1="639.3" x2="416.5" y2="726.9" stroke="#111" stroke-width="1"/>
<line x1="412.1" y1="726.9" x2="416.5" y2="726.9" stroke="#111" stroke-width="1"/>
<text x="408.7" y="729.06" font-size="6" text-anchor="end">0</text>
<line x1="412.1" y1="705.3" x2="416.5" y2="705.3" stroke="#111" stroke-width="1"/>
<text x="408.7" y="707.46" font-size="6" text-anchor="end">5</text>
<line x1="412.1" y1="683.4" x2="416.5" y2="683.4" stroke="#111" stroke-width="1"/>
<text x="408.7" y="685.56" font-size="6" text-anchor="end">10</text>
<line x1="412.1" y1="661.4" x2="416.5" y2="661.4" stroke="#111" stroke-width="1"/>
<text x="408.7" y="663.56" font-size="6" text-anchor="end">15</text>
<line x1="412.1" y1="639.3" x2="416.5" y2="639.3" stroke="#111" stroke-width="1"/>
<text x="408.7" y="641.46" font-size="6" text-anchor="end">20</text>
<rect x="421.4" y="667" width="19.6" height="59.9" fill="#FDB863" stroke="#333" stroke-width="1"/>
<rect x="445.3" y="622.6" width="19.6" height="104.3" fill="#000" stroke="#000" stroke-width="1"/>
<rect x="469.2" y="651.8" width="19.6" height="75.1" fill="#979797" stroke="#222" stroke-width="1"/>
<rect x="493.6" y="701.7" width="19.6" height="25.2" fill="#A6CEE3" stroke="#333" stroke-width="1"/>
<rect x="517.7" y="716.3" width="19.6" height="10.6" fill="#1F78B4" stroke="#222" stroke-width="1"/>
</svg>
</body></html>
